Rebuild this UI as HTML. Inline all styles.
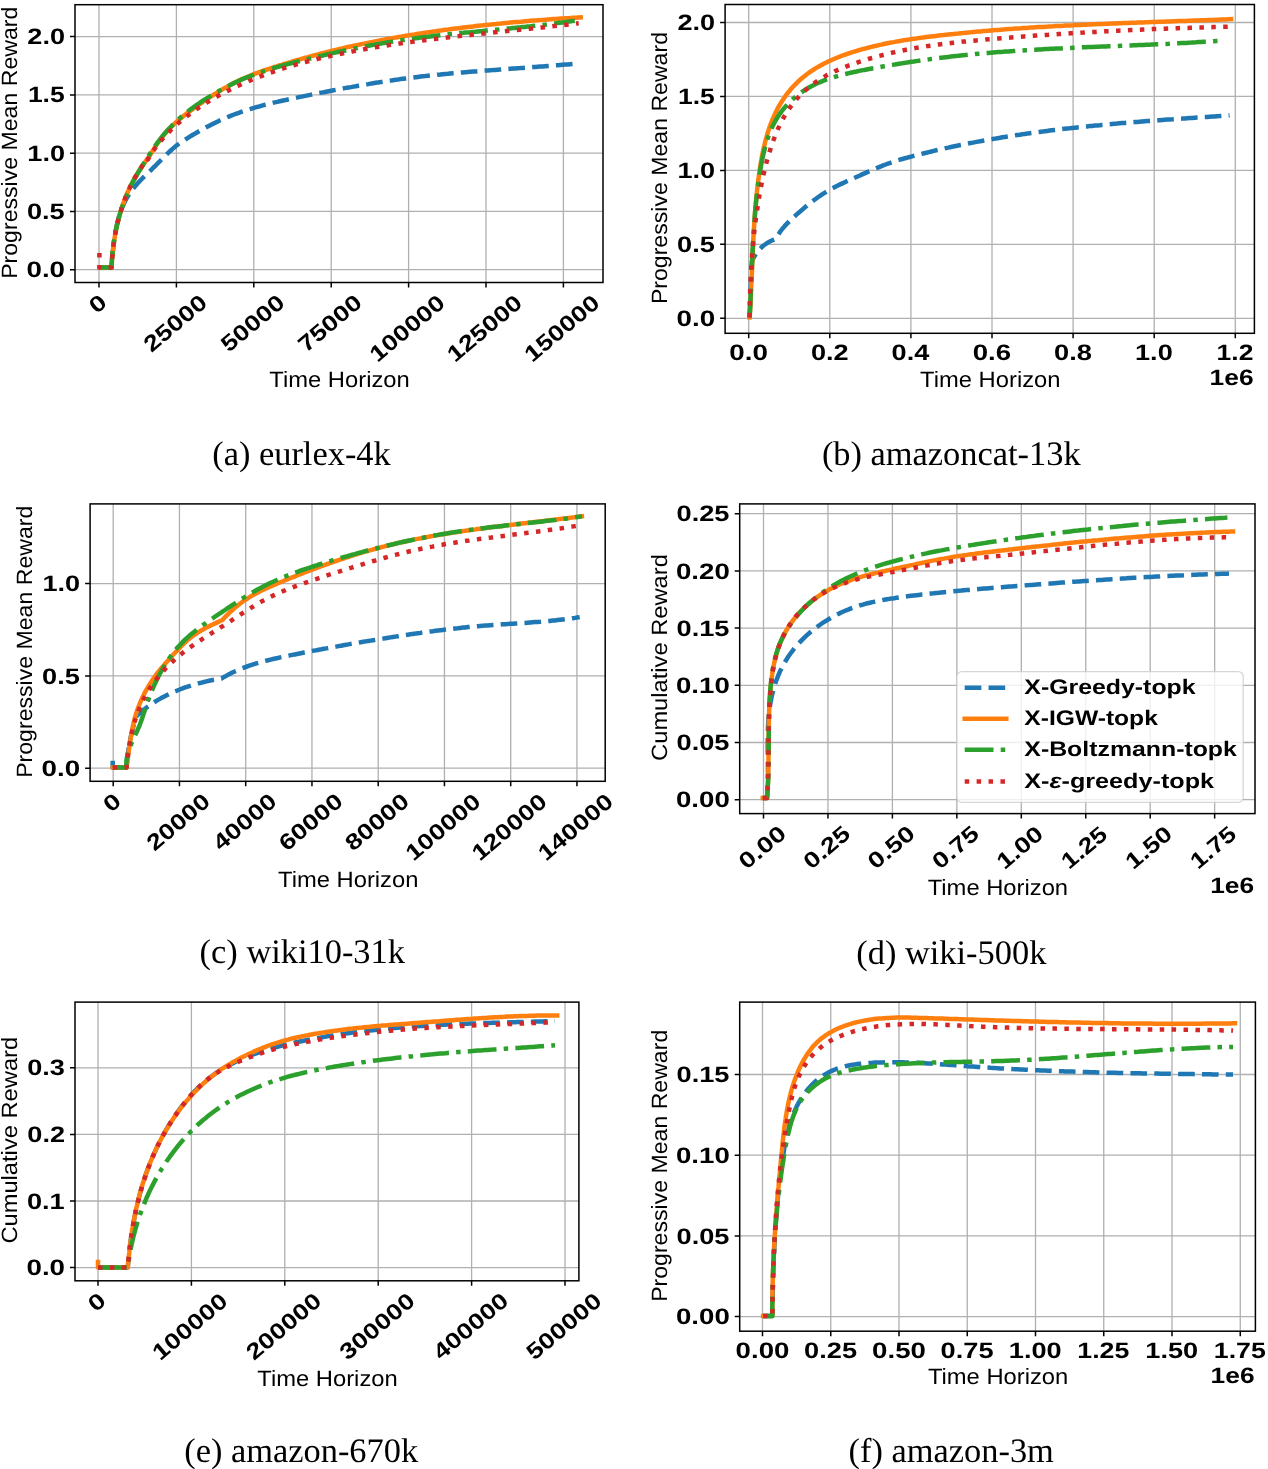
<!DOCTYPE html>
<html><head><meta charset="utf-8"><title>Figure</title>
<style>
html,body{margin:0;padding:0;background:#fff;}
body{width:1268px;height:1469px;overflow:hidden;}
svg{display:block;will-change:transform;text-rendering:geometricPrecision;}
text{font-family:"Liberation Sans",sans-serif;font-size:22.7px;fill:#000;}
text.cap{font-family:"Liberation Serif",serif;font-size:34.4px;}
</style></head>
<body>
<svg width="1268" height="1469" viewBox="0 0 1268 1469">
<rect width="1268" height="1469" fill="#fff"/>
<clipPath id="clipa"><rect x="75" y="4.7" width="528" height="277.8"/></clipPath>
<path d="M99.00,4.7V282.5M176.40,4.7V282.5M253.80,4.7V282.5M331.20,4.7V282.5M408.60,4.7V282.5M486.00,4.7V282.5M563.40,4.7V282.5M75,269.70H603M75,211.43H603M75,153.16H603M75,94.89H603M75,36.62H603" stroke="#b0b0b0" stroke-width="1.3" fill="none"/>
<g clip-path="url(#clipa)">
<path d="M99.4,267.6 L111.5,267.6 L111.7,265.1 L111.9,262.6 L112.1,260.1 L112.3,257.6 L112.6,255.1 L112.8,252.6 L113.1,250.1 L113.3,247.6 L113.6,245.1 L113.9,242.6 L114.2,240.0 L114.6,237.5 L115.0,235.0 L115.4,232.6 L115.8,230.1 L116.3,227.6 L116.8,225.2 L117.4,222.7 L118.0,220.3 L118.6,217.9 L119.3,215.6 L120.1,213.2 L120.9,210.9 L121.7,208.6 L122.7,206.3 L123.7,204.1 L124.7,201.9 L125.8,199.7 L127.0,197.6 L128.3,195.5 L129.6,193.4 L131.0,191.4 L132.5,189.4 L134.1,187.5 L135.7,185.6 L137.3,183.7 L139.0,181.8 L140.8,180.0 L142.6,178.2 L144.4,176.4 L146.2,174.6 L148.0,172.8 L149.9,171.1 L151.7,169.3 L153.5,167.5 L155.3,165.8 L157.1,164.0 L158.9,162.2 L160.6,160.5 L162.4,158.7 L164.1,157.0 L165.8,155.2 L167.6,153.5 L169.3,151.8 L171.1,150.2 L172.9,148.6 L174.8,147.0 L176.7,145.4 L178.7,144.0 L180.7,142.5 L182.7,141.1 L184.8,139.8 L187.0,138.5 L189.1,137.1 L191.3,135.8 L193.4,134.5 L195.6,133.3 L197.8,132.0 L200.0,130.7 L202.2,129.5 L204.4,128.3 L206.6,127.1 L208.9,125.9 L211.1,124.7 L213.4,123.6 L215.7,122.5 L217.9,121.4 L220.2,120.3 L222.5,119.3 L224.8,118.3 L227.1,117.3 L229.5,116.3 L231.8,115.4 L234.1,114.5 L236.5,113.6 L238.8,112.8 L241.2,111.9 L243.5,111.1 L245.9,110.4 L248.3,109.6 L250.7,108.9 L253.1,108.1 L255.5,107.4 L257.9,106.8 L260.3,106.1 L262.7,105.4 L265.1,104.8 L267.5,104.2 L269.9,103.6 L272.4,103.0 L274.8,102.4 L277.2,101.9 L279.7,101.3 L282.1,100.7 L284.5,100.2 L287.0,99.7 L289.4,99.1 L291.9,98.6 L294.3,98.1 L296.8,97.6 L299.2,97.1 L301.7,96.6 L304.1,96.1 L306.6,95.6 L309.1,95.1 L311.5,94.6 L314.0,94.1 L316.4,93.6 L318.9,93.1 L321.4,92.6 L323.8,92.2 L326.3,91.7 L328.7,91.2 L331.2,90.7 L333.7,90.2 L336.1,89.8 L338.6,89.3 L341.1,88.9 L343.5,88.4 L346.0,87.9 L348.5,87.5 L351.0,87.1 L353.4,86.6 L355.9,86.2 L358.4,85.7 L360.8,85.3 L363.3,84.9 L365.8,84.5 L368.3,84.1 L370.7,83.6 L373.2,83.2 L375.7,82.8 L378.2,82.4 L380.7,82.1 L383.1,81.7 L385.6,81.3 L388.1,80.9 L390.6,80.6 L393.1,80.2 L395.5,79.8 L398.0,79.5 L400.5,79.1 L403.0,78.8 L405.5,78.5 L408.0,78.2 L410.4,77.8 L412.9,77.5 L415.4,77.2 L417.9,76.9 L420.4,76.6 L422.9,76.3 L425.4,76.1 L427.9,75.8 L430.4,75.5 L432.8,75.3 L435.3,75.0 L437.8,74.7 L440.3,74.5 L442.8,74.2 L445.3,74.0 L447.8,73.8 L450.3,73.5 L452.8,73.3 L455.3,73.1 L457.8,72.9 L460.3,72.6 L462.7,72.4 L465.2,72.2 L467.7,72.0 L470.2,71.8 L472.7,71.6 L475.2,71.4 L477.7,71.2 L480.2,71.0 L482.7,70.8 L485.2,70.6 L487.7,70.4 L490.2,70.2 L492.7,70.1 L495.2,69.9 L497.7,69.7 L500.2,69.5 L502.7,69.3 L505.2,69.1 L507.7,69.0 L510.2,68.8 L512.7,68.6 L515.2,68.4 L517.7,68.2 L520.2,68.1 L522.7,67.9 L525.2,67.7 L527.7,67.5 L530.2,67.3 L532.7,67.1 L535.2,67.0 L537.7,66.8 L540.2,66.6 L542.7,66.4 L545.2,66.2 L547.7,66.0 L550.2,65.8 L552.7,65.6 L555.2,65.4 L557.7,65.2 L560.2,65.0 L562.7,64.8 L565.2,64.6 L567.7,64.4 L570.2,64.2 L572.7,64.0 L575.2,63.7 L577.7,63.5" fill="none" stroke="#1f77b4" stroke-width="4.5" stroke-linecap="butt" stroke-linejoin="round" stroke-dasharray="16.65 7.20"/>
<path d="M99.4,267.6 L111.5,267.6 L111.6,265.1 L111.8,262.5 L112.0,260.0 L112.2,257.5 L112.4,254.9 L112.6,252.4 L112.9,249.9 L113.2,247.3 L113.5,244.8 L113.9,242.3 L114.3,239.8 L114.7,237.3 L115.1,234.8 L115.6,232.3 L116.1,229.8 L116.6,227.3 L117.1,224.8 L117.7,222.3 L118.3,219.9 L119.0,217.4 L119.6,215.0 L120.3,212.6 L121.1,210.1 L121.8,207.7 L122.6,205.3 L123.5,202.9 L124.3,200.6 L125.2,198.2 L126.2,195.9 L127.1,193.5 L128.1,191.2 L129.2,188.9 L130.2,186.6 L131.4,184.4 L132.5,182.1 L133.7,179.9 L134.9,177.7 L136.2,175.5 L137.5,173.3 L138.8,171.1 L140.2,169.0 L141.6,166.9 L143.1,164.8 L144.6,162.7 L146.1,160.6 L147.7,158.6 L147.7,159.3 L148.9,157.1 L150.2,154.9 L151.5,152.8 L152.8,150.6 L154.2,148.4 L155.5,146.3 L157.0,144.2 L158.4,142.1 L159.9,140.1 L161.4,138.1 L163.0,136.1 L164.5,134.2 L166.2,132.3 L167.8,130.4 L169.5,128.6 L171.2,126.9 L173.0,125.2 L174.7,123.5 L176.5,121.9 L178.4,120.2 L180.3,118.7 L182.1,117.1 L184.1,115.6 L186.0,114.1 L187.9,112.6 L189.9,111.1 L191.9,109.6 L193.9,108.1 L196.0,106.7 L198.0,105.2 L200.1,103.8 L202.2,102.3 L204.3,100.9 L206.4,99.5 L208.5,98.1 L210.6,96.7 L212.8,95.3 L214.9,93.9 L217.1,92.6 L219.3,91.2 L221.5,89.9 L223.7,88.6 L225.9,87.4 L228.2,86.1 L230.4,84.9 L232.6,83.7 L234.9,82.6 L237.2,81.4 L239.5,80.3 L241.7,79.3 L244.0,78.3 L246.3,77.3 L248.7,76.3 L251.0,75.4 L253.3,74.4 L255.6,73.5 L258.0,72.7 L260.3,71.8 L262.7,71.0 L265.0,70.2 L267.4,69.4 L269.7,68.6 L272.1,67.8 L274.5,67.0 L276.9,66.3 L279.2,65.5 L281.6,64.8 L284.0,64.0 L286.4,63.3 L288.8,62.6 L291.2,61.9 L293.5,61.1 L295.9,60.4 L298.3,59.8 L300.7,59.1 L303.1,58.4 L305.5,57.7 L308.0,57.1 L310.4,56.4 L312.8,55.7 L315.2,55.1 L317.6,54.5 L320.0,53.8 L322.5,53.2 L324.9,52.6 L327.3,52.0 L329.7,51.4 L332.2,50.8 L334.6,50.2 L337.0,49.6 L339.5,49.0 L341.9,48.5 L344.3,47.9 L346.8,47.3 L349.2,46.8 L351.7,46.3 L354.1,45.7 L356.6,45.2 L359.0,44.7 L361.5,44.1 L363.9,43.6 L366.4,43.1 L368.9,42.6 L371.3,42.1 L373.8,41.6 L376.3,41.1 L378.7,40.7 L381.2,40.2 L383.7,39.7 L386.1,39.3 L388.6,38.8 L391.1,38.4 L393.5,37.9 L396.0,37.5 L398.5,37.0 L401.0,36.6 L403.5,36.2 L405.9,35.8 L408.4,35.4 L410.9,35.0 L413.4,34.6 L415.9,34.2 L418.4,33.8 L420.9,33.4 L423.3,33.0 L425.8,32.6 L428.3,32.3 L430.8,31.9 L433.3,31.5 L435.8,31.2 L438.3,30.8 L440.8,30.5 L443.3,30.1 L445.8,29.8 L448.3,29.5 L450.8,29.1 L453.3,28.8 L455.8,28.5 L458.3,28.2 L460.8,27.9 L463.3,27.6 L465.8,27.3 L468.3,27.0 L470.8,26.7 L473.3,26.4 L475.8,26.1 L478.3,25.8 L480.8,25.5 L483.3,25.3 L485.8,25.0 L488.3,24.7 L490.8,24.5 L493.3,24.2 L495.8,24.0 L498.3,23.7 L500.8,23.5 L503.3,23.2 L505.8,23.0 L508.3,22.8 L510.8,22.5 L513.3,22.3 L515.8,22.1 L518.3,21.9 L520.8,21.7 L523.3,21.4 L525.8,21.2 L528.3,21.0 L530.8,20.8 L533.3,20.6 L535.8,20.4 L538.3,20.2 L540.8,20.1 L543.3,19.9 L545.8,19.7 L548.3,19.5 L550.8,19.3 L553.3,19.1 L555.8,19.0 L558.3,18.8 L560.8,18.6 L563.3,18.5 L565.8,18.3 L568.3,18.2 L570.8,18.0 L573.2,17.8 L575.7,17.7 L578.2,17.5 L580.7,17.4" fill="none" stroke="#ff7f0e" stroke-width="4.5" stroke-linecap="square" stroke-linejoin="round"/>
<path d="M99.4,267.6 L111.5,267.6 L111.6,265.0 L111.8,262.5 L111.9,259.9 L112.1,257.4 L112.3,254.9 L112.5,252.4 L112.8,249.9 L113.1,247.4 L113.4,244.9 L113.8,242.4 L114.1,239.9 L114.5,237.5 L115.0,235.0 L115.4,232.6 L115.9,230.1 L116.4,227.7 L117.0,225.3 L117.5,222.9 L118.1,220.5 L118.8,218.1 L119.4,215.7 L120.1,213.3 L120.9,210.9 L121.6,208.6 L122.4,206.2 L123.2,203.9 L124.1,201.6 L125.0,199.3 L125.9,196.9 L126.9,194.6 L127.9,192.4 L128.9,190.1 L130.0,187.8 L131.1,185.5 L132.2,183.3 L133.4,181.0 L134.6,178.8 L135.9,176.6 L137.1,174.4 L138.4,172.2 L139.8,170.0 L141.1,167.8 L142.4,165.6 L143.8,163.5 L145.1,161.3 L146.5,159.2 L147.8,157.1 L149.2,155.0 L150.5,152.9 L151.9,150.9 L153.2,148.8 L154.6,146.8 L156.0,144.7 L157.4,142.7 L158.9,140.8 L160.4,138.8 L161.9,136.9 L163.5,134.9 L165.1,133.0 L166.8,131.1 L168.4,129.3 L170.2,127.5 L171.9,125.7 L173.7,123.9 L175.5,122.1 L177.3,120.4 L179.2,118.7 L181.1,117.0 L182.9,115.4 L184.9,113.8 L186.8,112.3 L188.8,110.7 L190.7,109.2 L192.7,107.8 L194.7,106.3 L196.7,104.9 L198.8,103.5 L200.8,102.1 L202.9,100.7 L205.0,99.4 L207.1,98.1 L209.2,96.8 L211.4,95.5 L213.5,94.2 L215.7,92.9 L217.8,91.7 L220.0,90.4 L222.2,89.2 L224.4,88.0 L226.7,86.8 L228.9,85.7 L231.1,84.5 L233.4,83.4 L235.7,82.3 L238.0,81.3 L240.2,80.2 L242.6,79.2 L244.9,78.2 L247.2,77.3 L249.5,76.4 L251.8,75.5 L254.2,74.6 L256.5,73.7 L258.9,72.9 L261.3,72.1 L263.6,71.3 L266.0,70.5 L268.4,69.7 L270.8,69.0 L273.2,68.2 L275.6,67.5 L278.0,66.8 L280.4,66.1 L282.8,65.5 L285.3,64.8 L287.7,64.1 L290.1,63.5 L292.5,62.9 L295.0,62.2 L297.4,61.6 L299.8,61.0 L302.3,60.4 L304.7,59.8 L307.2,59.2 L309.6,58.6 L312.0,58.0 L314.5,57.4 L316.9,56.8 L319.4,56.2 L321.8,55.7 L324.3,55.1 L326.7,54.5 L329.2,54.0 L331.6,53.4 L334.1,52.9 L336.5,52.3 L339.0,51.8 L341.4,51.3 L343.9,50.7 L346.3,50.2 L348.8,49.7 L351.2,49.2 L353.7,48.7 L356.2,48.2 L358.6,47.7 L361.1,47.2 L363.5,46.7 L366.0,46.3 L368.5,45.8 L370.9,45.3 L373.4,44.9 L375.9,44.4 L378.3,44.0 L380.8,43.6 L383.3,43.1 L385.7,42.7 L388.2,42.3 L390.7,41.9 L393.2,41.5 L395.6,41.1 L398.1,40.7 L400.6,40.4 L403.1,40.0 L405.5,39.6 L408.0,39.3 L410.5,38.9 L413.0,38.6 L415.4,38.2 L417.9,37.9 L420.4,37.6 L422.9,37.3 L425.4,37.0 L427.8,36.7 L430.3,36.4 L432.8,36.1 L435.3,35.8 L437.8,35.5 L440.2,35.2 L442.7,34.9 L445.2,34.7 L447.7,34.4 L450.2,34.1 L452.7,33.9 L455.2,33.6 L457.6,33.4 L460.1,33.1 L462.6,32.9 L465.1,32.6 L467.6,32.4 L470.1,32.2 L472.6,31.9 L475.1,31.7 L477.6,31.4 L480.0,31.2 L482.5,31.0 L485.0,30.7 L487.5,30.5 L490.0,30.3 L492.5,30.0 L495.0,29.8 L497.5,29.6 L500.0,29.3 L502.5,29.1 L505.0,28.9 L507.5,28.6 L510.0,28.4 L512.4,28.1 L514.9,27.9 L517.4,27.6 L519.9,27.4 L522.4,27.1 L524.9,26.9 L527.4,26.6 L529.9,26.4 L532.4,26.1 L534.9,25.8 L537.4,25.5 L539.9,25.3 L542.4,25.0 L544.9,24.7 L547.4,24.4 L549.9,24.1 L552.4,23.8 L554.8,23.5 L557.3,23.1 L559.8,22.8 L562.3,22.5 L564.8,22.1 L567.3,21.8 L569.8,21.4 L572.3,21.1 L574.8,20.7" fill="none" stroke="#2ca02c" stroke-width="4.5" stroke-linecap="butt" stroke-linejoin="round" stroke-dasharray="28.80 7.20 4.50 7.20"/>
<path d="M99.4,253.0 L99.4,267.6 L111.5,267.6 L111.6,265.1 L111.8,262.5 L112.0,260.0 L112.2,257.5 L112.4,254.9 L112.6,252.4 L112.9,249.9 L113.2,247.3 L113.5,244.8 L113.9,242.3 L114.3,239.8 L114.7,237.3 L115.1,234.8 L115.6,232.3 L116.1,229.8 L116.6,227.3 L117.1,224.8 L117.7,222.3 L118.3,219.9 L119.0,217.4 L119.6,215.0 L120.3,212.6 L121.1,210.1 L121.8,207.7 L122.6,205.3 L123.5,202.9 L124.3,200.6 L125.2,198.2 L126.2,195.9 L127.1,193.5 L128.1,191.2 L129.2,188.9 L130.2,186.6 L131.4,184.4 L132.5,182.1 L133.7,179.9 L134.9,177.7 L136.2,175.5 L137.5,173.3 L138.8,171.1 L140.2,169.0 L141.6,166.9 L143.1,164.8 L144.6,162.7 L146.1,160.6 L147.7,158.6 L147.7,159.5 L149.0,157.3 L150.3,155.2 L151.7,153.1 L153.0,151.1 L154.5,149.0 L156.0,147.0 L157.5,145.0 L159.0,143.1 L160.6,141.2 L162.2,139.3 L163.9,137.4 L165.5,135.6 L167.2,133.7 L169.0,132.0 L170.7,130.2 L172.5,128.5 L174.4,126.8 L176.2,125.1 L178.1,123.4 L180.0,121.8 L181.9,120.2 L183.9,118.6 L185.9,117.0 L187.9,115.5 L189.9,114.0 L191.9,112.5 L194.0,111.0 L196.0,109.6 L198.1,108.1 L200.2,106.7 L202.3,105.4 L204.5,104.0 L206.6,102.7 L208.8,101.3 L211.0,100.0 L213.1,98.8 L215.3,97.5 L217.5,96.3 L219.7,95.1 L222.0,93.9 L224.2,92.7 L226.4,91.6 L228.7,90.4 L230.9,89.3 L233.2,88.2 L235.4,87.1 L237.7,86.1 L239.9,85.0 L242.2,84.0 L244.5,83.0 L246.8,82.0 L249.1,81.0 L251.4,80.0 L253.7,79.1 L256.0,78.2 L258.3,77.2 L260.6,76.3 L262.9,75.5 L265.2,74.6 L267.6,73.7 L269.9,72.9 L272.3,72.1 L274.6,71.3 L277.0,70.5 L279.3,69.7 L281.7,68.9 L284.0,68.2 L286.4,67.4 L288.8,66.7 L291.2,66.0 L293.6,65.3 L295.9,64.6 L298.3,63.9 L300.7,63.3 L303.1,62.6 L305.5,62.0 L308.0,61.3 L310.4,60.7 L312.8,60.1 L315.2,59.5 L317.6,58.9 L320.1,58.3 L322.5,57.7 L324.9,57.2 L327.4,56.6 L329.8,56.1 L332.2,55.5 L334.7,55.0 L337.1,54.5 L339.6,54.0 L342.1,53.5 L344.5,53.0 L347.0,52.5 L349.4,52.0 L351.9,51.5 L354.4,51.1 L356.9,50.6 L359.3,50.1 L361.8,49.7 L364.3,49.2 L366.8,48.8 L369.3,48.4 L371.7,47.9 L374.2,47.5 L376.7,47.1 L379.2,46.7 L381.7,46.3 L384.2,45.9 L386.7,45.5 L389.2,45.1 L391.7,44.8 L394.2,44.4 L396.7,44.0 L399.2,43.6 L401.7,43.3 L404.2,42.9 L406.7,42.6 L409.2,42.2 L411.8,41.9 L414.3,41.5 L416.8,41.2 L419.3,40.9 L421.8,40.6 L424.3,40.2 L426.8,39.9 L429.4,39.6 L431.9,39.3 L434.4,39.0 L436.9,38.7 L439.4,38.4 L441.9,38.1 L444.5,37.8 L447.0,37.5 L449.5,37.2 L452.0,36.9 L454.5,36.6 L457.1,36.3 L459.6,36.1 L462.1,35.8 L464.6,35.5 L467.1,35.2 L469.6,35.0 L472.2,34.7 L474.7,34.4 L477.2,34.1 L479.7,33.9 L482.2,33.6 L484.7,33.4 L487.2,33.1 L489.7,32.8 L492.2,32.6 L494.7,32.3 L497.3,32.1 L499.8,31.8 L502.3,31.5 L504.8,31.3 L507.3,31.0 L509.8,30.8 L512.2,30.5 L514.7,30.3 L517.2,30.0 L519.7,29.8 L522.2,29.5 L524.7,29.2 L527.2,29.0 L529.7,28.7 L532.1,28.5 L534.6,28.2 L537.1,28.0 L539.6,27.7 L542.0,27.4 L544.5,27.2 L547.0,26.9 L549.4,26.6 L551.9,26.4 L554.3,26.1 L556.8,25.8 L559.2,25.6 L561.7,25.3 L564.1,25.0 L566.6,24.7 L569.0,24.4 L571.4,24.2 L573.9,23.9 L576.3,23.6 L578.7,23.3" fill="none" stroke="#d62728" stroke-width="4.5" stroke-linecap="butt" stroke-linejoin="round" stroke-dasharray="4.50 7.42"/>
</g>
<rect x="75" y="4.7" width="528" height="277.8" fill="none" stroke="#000" stroke-width="1.5"/>
<path d="M99.00,282.5v5M176.40,282.5v5M253.80,282.5v5M331.20,282.5v5M408.60,282.5v5M486.00,282.5v5M563.40,282.5v5M75,269.70h-5M75,211.43h-5M75,153.16h-5M75,94.89h-5M75,36.62h-5" stroke="#000" stroke-width="1.5" fill="none"/>
<text x="26.43" y="277.30" font-weight="bold" style="font-size:22.30px" textLength="38.64" lengthAdjust="spacingAndGlyphs">0.0</text>
<text x="26.95" y="219.03" font-weight="bold" style="font-size:22.30px" textLength="37.79" lengthAdjust="spacingAndGlyphs">0.5</text>
<text x="27.36" y="160.76" font-weight="bold" style="font-size:22.30px" textLength="37.68" lengthAdjust="spacingAndGlyphs">1.0</text>
<text x="27.90" y="102.49" font-weight="bold" style="font-size:22.30px" textLength="36.83" lengthAdjust="spacingAndGlyphs">1.5</text>
<text x="27.36" y="44.22" font-weight="bold" style="font-size:22.30px" textLength="37.69" lengthAdjust="spacingAndGlyphs">2.0</text>
<text transform="translate(97.40,303.36) rotate(-40)" x="-7.62" y="8.08" font-weight="bold" style="font-size:22.30px" textLength="15.27" lengthAdjust="spacingAndGlyphs">0</text>
<text transform="translate(174.80,322.82) rotate(-40)" x="-37.32" y="8.08" font-weight="bold" style="font-size:22.30px" textLength="74.81" lengthAdjust="spacingAndGlyphs">25000</text>
<text transform="translate(252.20,322.82) rotate(-40)" x="-37.39" y="8.08" font-weight="bold" style="font-size:22.30px" textLength="74.94" lengthAdjust="spacingAndGlyphs">50000</text>
<text transform="translate(329.60,322.82) rotate(-40)" x="-37.75" y="8.08" font-weight="bold" style="font-size:22.30px" textLength="75.37" lengthAdjust="spacingAndGlyphs">75000</text>
<text transform="translate(407.00,327.68) rotate(-40)" x="-45.25" y="8.08" font-weight="bold" style="font-size:22.30px" textLength="89.96" lengthAdjust="spacingAndGlyphs">100000</text>
<text transform="translate(484.40,327.68) rotate(-40)" x="-45.25" y="8.08" font-weight="bold" style="font-size:22.30px" textLength="89.96" lengthAdjust="spacingAndGlyphs">125000</text>
<text transform="translate(561.80,327.68) rotate(-40)" x="-45.25" y="8.08" font-weight="bold" style="font-size:22.30px" textLength="89.96" lengthAdjust="spacingAndGlyphs">150000</text>
<text x="269.35" y="387.10" font-weight="normal" style="font-size:22.10px" textLength="140.39" lengthAdjust="spacingAndGlyphs">Time Horizon</text>

<text transform="translate(16.75,142.60) rotate(-90)" x="-136.22" y="0" style="font-size:22.1px" textLength="272.11" lengthAdjust="spacingAndGlyphs">Progressive Mean Reward</text>
<text x="212.20" y="464.50" class="cap">(a) eurlex-4k</text>
<clipPath id="clipb"><rect x="725.1" y="4.5" width="529.3000000000001" height="328.8"/></clipPath>
<path d="M748.70,4.5V333.3M829.80,4.5V333.3M910.90,4.5V333.3M992.00,4.5V333.3M1073.10,4.5V333.3M1154.20,4.5V333.3M1235.30,4.5V333.3M725.1,318.30H1254.4M725.1,244.35H1254.4M725.1,170.40H1254.4M725.1,96.45H1254.4M725.1,22.50H1254.4" stroke="#b0b0b0" stroke-width="1.3" fill="none"/>
<g clip-path="url(#clipb)">
<path d="M749.6,317.4 L750.5,290.0 L751.9,261.4 L753.0,258.9 L754.3,256.6 L755.7,254.3 L757.1,252.2 L758.7,250.2 L760.5,248.4 L762.3,246.6 L764.3,245.0 L766.3,243.6 L768.5,242.2 L770.8,241.0 L773.3,239.9 L775.8,238.9 L777.0,236.7 L778.3,234.5 L779.7,232.4 L781.1,230.5 L782.6,228.5 L784.2,226.7 L785.8,224.8 L787.5,223.1 L789.2,221.3 L791.0,219.6 L792.8,217.9 L794.7,216.2 L796.5,214.6 L798.4,212.9 L800.4,211.3 L802.3,209.6 L804.2,207.9 L806.2,206.3 L808.2,204.7 L810.2,203.1 L812.2,201.5 L814.2,200.0 L816.3,198.5 L818.3,197.0 L820.4,195.6 L822.5,194.2 L824.6,192.9 L826.7,191.6 L828.8,190.3 L831.0,189.1 L833.1,188.0 L835.3,186.8 L837.5,185.7 L839.6,184.6 L841.8,183.6 L844.1,182.6 L846.3,181.5 L848.5,180.5 L850.8,179.5 L853.0,178.5 L855.3,177.5 L857.6,176.5 L859.9,175.5 L862.2,174.4 L864.5,173.4 L866.8,172.4 L869.1,171.3 L871.5,170.3 L873.8,169.3 L876.1,168.3 L878.5,167.3 L880.9,166.3 L883.2,165.4 L885.6,164.5 L888.0,163.6 L890.4,162.8 L892.7,162.0 L895.1,161.2 L897.5,160.4 L899.9,159.7 L902.3,159.0 L904.7,158.3 L907.2,157.7 L909.6,157.0 L912.0,156.4 L914.4,155.7 L916.8,155.1 L919.2,154.5 L921.7,153.9 L924.1,153.3 L926.5,152.7 L928.9,152.1 L931.4,151.5 L933.8,150.9 L936.2,150.3 L938.7,149.8 L941.1,149.2 L943.5,148.7 L946.0,148.1 L948.4,147.6 L950.9,147.0 L953.3,146.5 L955.8,146.0 L958.2,145.5 L960.6,145.0 L963.1,144.5 L965.5,144.0 L968.0,143.5 L970.5,143.0 L972.9,142.6 L975.4,142.1 L977.8,141.6 L980.3,141.2 L982.8,140.7 L985.2,140.3 L987.7,139.9 L990.1,139.4 L992.6,139.0 L995.1,138.6 L997.5,138.2 L1000.0,137.8 L1002.5,137.3 L1005.0,136.9 L1007.4,136.6 L1009.9,136.2 L1012.4,135.8 L1014.9,135.4 L1017.3,135.0 L1019.8,134.7 L1022.3,134.3 L1024.8,133.9 L1027.3,133.6 L1029.7,133.2 L1032.2,132.9 L1034.7,132.6 L1037.2,132.2 L1039.7,131.9 L1042.2,131.6 L1044.7,131.2 L1047.2,130.9 L1049.6,130.6 L1052.1,130.3 L1054.6,130.0 L1057.1,129.7 L1059.6,129.4 L1062.1,129.1 L1064.6,128.8 L1067.1,128.5 L1069.6,128.3 L1072.1,128.0 L1074.6,127.7 L1077.1,127.4 L1079.6,127.2 L1082.1,126.9 L1084.6,126.6 L1087.1,126.4 L1089.6,126.1 L1092.1,125.9 L1094.6,125.6 L1097.1,125.4 L1099.6,125.2 L1102.1,124.9 L1104.6,124.7 L1107.1,124.5 L1109.6,124.2 L1112.1,124.0 L1114.6,123.8 L1117.1,123.6 L1119.6,123.3 L1122.1,123.1 L1124.6,122.9 L1127.1,122.7 L1129.6,122.5 L1132.1,122.3 L1134.6,122.1 L1137.1,121.9 L1139.6,121.7 L1142.1,121.5 L1144.6,121.3 L1147.1,121.1 L1149.6,120.9 L1152.1,120.7 L1154.6,120.5 L1157.1,120.3 L1159.6,120.2 L1162.1,120.0 L1164.7,119.8 L1167.2,119.6 L1169.7,119.4 L1172.2,119.3 L1174.7,119.1 L1177.2,118.9 L1179.7,118.7 L1182.2,118.6 L1184.7,118.4 L1187.2,118.2 L1189.7,118.0 L1192.2,117.9 L1194.7,117.7 L1197.2,117.5 L1199.7,117.4 L1202.2,117.2 L1204.7,117.0 L1207.2,116.9 L1209.7,116.7 L1212.1,116.5 L1214.6,116.4 L1217.1,116.2 L1219.6,116.1 L1222.1,115.9 L1224.6,115.7 L1227.1,115.6 L1229.6,115.4" fill="none" stroke="#1f77b4" stroke-width="4.5" stroke-linecap="butt" stroke-linejoin="round" stroke-dasharray="16.65 7.20"/>
<path d="M749.6,317.4 L749.8,314.9 L749.9,312.3 L750.1,309.8 L750.2,307.3 L750.4,304.8 L750.5,302.3 L750.6,299.8 L750.8,297.3 L750.9,294.7 L751.0,292.2 L751.1,289.7 L751.2,287.2 L751.3,284.7 L751.4,282.2 L751.6,279.7 L751.7,277.2 L751.8,274.8 L751.9,272.3 L752.0,269.8 L752.1,267.3 L752.2,264.8 L752.3,262.3 L752.4,259.8 L752.5,257.3 L752.6,254.8 L752.7,252.4 L752.8,249.9 L753.0,247.4 L753.1,244.9 L753.2,242.4 L753.3,239.9 L753.4,237.4 L753.6,235.0 L753.7,232.5 L753.9,230.0 L754.0,227.5 L754.2,225.0 L754.3,222.5 L754.5,220.0 L754.7,217.5 L754.9,215.0 L755.0,212.5 L755.2,210.0 L755.4,207.5 L755.7,205.0 L755.9,202.5 L756.1,200.0 L756.4,197.5 L756.6,195.0 L756.9,192.5 L757.1,190.0 L757.4,187.5 L757.7,185.0 L758.0,182.5 L758.3,179.9 L758.7,177.4 L759.0,174.9 L759.4,172.3 L759.7,169.8 L760.1,167.3 L760.5,164.8 L760.9,162.2 L761.4,159.7 L761.8,157.2 L762.3,154.7 L762.8,152.2 L763.3,149.7 L763.9,147.2 L764.5,144.7 L765.1,142.2 L765.7,139.8 L766.4,137.3 L767.1,134.9 L767.8,132.5 L768.6,130.1 L769.4,127.7 L770.2,125.3 L771.1,123.0 L772.0,120.7 L773.0,118.4 L774.0,116.1 L775.0,113.8 L776.1,111.6 L777.2,109.4 L778.4,107.2 L779.6,105.1 L780.9,103.0 L782.2,100.9 L783.5,98.9 L784.9,96.8 L786.3,94.9 L787.8,92.9 L789.4,91.0 L790.9,89.1 L792.5,87.3 L794.2,85.5 L795.9,83.8 L797.6,82.1 L799.4,80.4 L801.2,78.8 L803.1,77.2 L805.0,75.7 L806.9,74.2 L808.9,72.7 L810.9,71.3 L813.0,70.0 L815.1,68.7 L817.2,67.4 L819.3,66.2 L821.5,65.0 L823.7,63.8 L826.0,62.7 L828.2,61.6 L830.5,60.5 L832.8,59.5 L835.1,58.5 L837.5,57.5 L839.8,56.6 L842.2,55.7 L844.6,54.8 L847.0,54.0 L849.4,53.2 L851.8,52.4 L854.3,51.6 L856.7,50.9 L859.1,50.1 L861.6,49.4 L864.1,48.8 L866.5,48.1 L869.0,47.5 L871.4,46.9 L873.9,46.3 L876.4,45.7 L878.8,45.1 L881.3,44.6 L883.8,44.0 L886.2,43.5 L888.7,43.0 L891.2,42.5 L893.7,42.1 L896.1,41.6 L898.6,41.2 L901.1,40.8 L903.6,40.3 L906.1,39.9 L908.6,39.6 L911.0,39.2 L913.5,38.8 L916.0,38.5 L918.5,38.1 L921.0,37.8 L923.5,37.4 L926.0,37.1 L928.5,36.8 L930.9,36.5 L933.4,36.2 L935.9,35.9 L938.4,35.6 L940.9,35.3 L943.4,35.1 L945.9,34.8 L948.4,34.5 L950.9,34.2 L953.4,34.0 L955.9,33.7 L958.4,33.5 L960.9,33.2 L963.3,33.0 L965.8,32.7 L968.3,32.5 L970.8,32.3 L973.3,32.0 L975.8,31.8 L978.3,31.6 L980.8,31.4 L983.3,31.1 L985.8,30.9 L988.3,30.7 L990.8,30.5 L993.3,30.3 L995.8,30.1 L998.3,29.9 L1000.8,29.7 L1003.3,29.5 L1005.8,29.3 L1008.3,29.1 L1010.8,29.0 L1013.3,28.8 L1015.8,28.6 L1018.3,28.4 L1020.8,28.3 L1023.2,28.1 L1025.7,27.9 L1028.2,27.8 L1030.7,27.6 L1033.2,27.5 L1035.7,27.3 L1038.2,27.1 L1040.7,27.0 L1043.2,26.9 L1045.7,26.7 L1048.2,26.6 L1050.7,26.4 L1053.2,26.3 L1055.7,26.1 L1058.2,26.0 L1060.7,25.9 L1063.2,25.8 L1065.7,25.6 L1068.2,25.5 L1070.7,25.4 L1073.2,25.3 L1075.7,25.1 L1078.2,25.0 L1080.7,24.9 L1083.2,24.8 L1085.7,24.7 L1088.2,24.6 L1090.7,24.4 L1093.2,24.3 L1095.8,24.2 L1098.3,24.1 L1100.8,24.0 L1103.3,23.9 L1105.8,23.8 L1108.3,23.7 L1110.8,23.6 L1113.3,23.5 L1115.8,23.4 L1118.3,23.3 L1120.8,23.2 L1123.3,23.1 L1125.8,23.0 L1128.3,22.9 L1130.8,22.8 L1133.3,22.7 L1135.8,22.7 L1138.3,22.6 L1140.8,22.5 L1143.3,22.4 L1145.8,22.3 L1148.3,22.2 L1150.8,22.1 L1153.3,22.0 L1155.9,21.9 L1158.4,21.8 L1160.9,21.8 L1163.4,21.7 L1165.9,21.6 L1168.4,21.5 L1170.9,21.4 L1173.4,21.3 L1175.9,21.2 L1178.4,21.1 L1180.9,21.1 L1183.4,21.0 L1185.9,20.9 L1188.4,20.8 L1191.0,20.7 L1193.5,20.6 L1196.0,20.5 L1198.5,20.4 L1201.0,20.3 L1203.5,20.3 L1206.0,20.2 L1208.5,20.1 L1211.0,20.0 L1213.5,19.9 L1216.0,19.8 L1218.6,19.7 L1221.1,19.6 L1223.6,19.5 L1226.1,19.4 L1228.6,19.3 L1231.1,19.2" fill="none" stroke="#ff7f0e" stroke-width="4.5" stroke-linecap="square" stroke-linejoin="round"/>
<path d="M749.6,317.4 L749.7,314.9 L749.9,312.3 L750.0,309.8 L750.1,307.3 L750.3,304.8 L750.4,302.2 L750.5,299.7 L750.6,297.2 L750.7,294.7 L750.8,292.2 L750.9,289.7 L751.0,287.2 L751.1,284.7 L751.3,282.2 L751.4,279.7 L751.5,277.2 L751.6,274.7 L751.7,272.2 L751.8,269.7 L751.9,267.2 L752.0,264.7 L752.1,262.2 L752.2,259.7 L752.3,257.2 L752.4,254.8 L752.5,252.3 L752.6,249.8 L752.8,247.3 L752.9,244.8 L753.0,242.3 L753.2,239.8 L753.3,237.4 L753.5,234.9 L753.6,232.4 L753.8,229.9 L753.9,227.4 L754.1,224.9 L754.3,222.5 L754.5,220.0 L754.7,217.5 L754.9,215.0 L755.1,212.5 L755.3,210.0 L755.5,207.5 L755.8,205.0 L756.0,202.5 L756.3,200.0 L756.5,197.5 L756.8,195.1 L757.1,192.6 L757.4,190.0 L757.7,187.5 L758.1,185.0 L758.4,182.5 L758.8,180.0 L759.1,177.5 L759.5,175.0 L759.9,172.5 L760.3,170.0 L760.7,167.4 L761.2,164.9 L761.7,162.4 L762.1,159.9 L762.7,157.4 L763.2,154.9 L763.8,152.5 L764.4,150.0 L765.0,147.6 L765.7,145.1 L766.4,142.7 L767.1,140.3 L767.9,137.9 L768.7,135.6 L769.6,133.3 L770.5,131.0 L771.5,128.7 L772.5,126.4 L773.6,124.2 L774.8,122.0 L776.0,119.9 L777.2,117.8 L778.6,115.7 L780.0,113.6 L781.4,111.6 L782.9,109.7 L784.5,107.8 L786.1,105.9 L787.8,104.1 L789.5,102.3 L791.3,100.6 L793.1,98.9 L795.0,97.3 L796.9,95.7 L798.8,94.2 L800.8,92.7 L802.8,91.3 L804.9,90.0 L807.0,88.7 L809.1,87.5 L811.3,86.3 L813.5,85.2 L815.7,84.1 L817.9,83.0 L820.2,82.1 L822.5,81.1 L824.8,80.2 L827.2,79.4 L829.5,78.5 L831.9,77.8 L834.3,77.0 L836.8,76.3 L839.2,75.6 L841.7,74.9 L844.1,74.3 L846.6,73.7 L849.1,73.1 L851.6,72.5 L854.1,72.0 L856.6,71.5 L859.1,70.9 L861.6,70.4 L864.1,70.0 L866.6,69.5 L869.1,69.0 L871.6,68.5 L874.1,68.1 L876.6,67.6 L879.1,67.2 L881.6,66.7 L884.1,66.3 L886.6,65.9 L889.1,65.4 L891.6,65.0 L894.0,64.6 L896.5,64.2 L899.0,63.8 L901.5,63.4 L903.9,63.0 L906.4,62.6 L908.9,62.2 L911.4,61.8 L913.8,61.5 L916.3,61.1 L918.8,60.8 L921.2,60.4 L923.7,60.0 L926.1,59.7 L928.6,59.4 L931.1,59.0 L933.5,58.7 L936.0,58.4 L938.5,58.1 L940.9,57.8 L943.4,57.5 L945.9,57.2 L948.4,56.9 L950.8,56.6 L953.3,56.3 L955.8,56.0 L958.3,55.8 L960.7,55.5 L963.2,55.2 L965.7,55.0 L968.2,54.7 L970.7,54.5 L973.2,54.3 L975.6,54.0 L978.1,53.8 L980.6,53.6 L983.1,53.4 L985.6,53.1 L988.1,52.9 L990.6,52.7 L993.1,52.5 L995.6,52.3 L998.1,52.1 L1000.6,51.9 L1003.1,51.8 L1005.6,51.6 L1008.1,51.4 L1010.6,51.2 L1013.1,51.1 L1015.6,50.9 L1018.1,50.7 L1020.6,50.6 L1023.1,50.4 L1025.6,50.2 L1028.1,50.1 L1030.6,49.9 L1033.1,49.8 L1035.6,49.7 L1038.1,49.5 L1040.6,49.4 L1043.1,49.2 L1045.6,49.1 L1048.1,49.0 L1050.6,48.8 L1053.1,48.7 L1055.7,48.6 L1058.2,48.5 L1060.7,48.4 L1063.2,48.2 L1065.7,48.1 L1068.2,48.0 L1070.7,47.9 L1073.2,47.8 L1075.7,47.7 L1078.3,47.6 L1080.8,47.4 L1083.3,47.3 L1085.8,47.2 L1088.3,47.1 L1090.8,47.0 L1093.3,46.9 L1095.9,46.8 L1098.4,46.7 L1100.9,46.6 L1103.4,46.5 L1105.9,46.4 L1108.4,46.3 L1110.9,46.2 L1113.4,46.1 L1116.0,46.0 L1118.5,45.9 L1121.0,45.8 L1123.5,45.7 L1126.0,45.6 L1128.5,45.5 L1131.0,45.4 L1133.5,45.3 L1136.1,45.2 L1138.6,45.1 L1141.1,45.0 L1143.6,44.9 L1146.1,44.8 L1148.6,44.7 L1151.1,44.6 L1153.6,44.4 L1156.1,44.3 L1158.6,44.2 L1161.2,44.1 L1163.7,44.0 L1166.2,43.9 L1168.7,43.8 L1171.2,43.6 L1173.7,43.5 L1176.2,43.4 L1178.7,43.3 L1181.2,43.1 L1183.7,43.0 L1186.2,42.9 L1188.7,42.7 L1191.2,42.6 L1193.7,42.4 L1196.2,42.3 L1198.7,42.1 L1201.2,42.0 L1203.7,41.8 L1206.2,41.7 L1208.7,41.5 L1211.2,41.4 L1213.6,41.2 L1216.1,41.0 L1218.6,40.9 L1221.1,40.7 L1223.6,40.5" fill="none" stroke="#2ca02c" stroke-width="4.5" stroke-linecap="butt" stroke-linejoin="round" stroke-dasharray="28.80 7.20 4.50 7.20"/>
<path d="M749.6,317.4 L749.6,314.9 L749.7,312.4 L749.7,310.0 L749.7,307.5 L749.8,305.0 L749.8,302.5 L749.9,300.0 L750.0,297.5 L750.0,295.0 L750.1,292.6 L750.2,290.1 L750.3,287.6 L750.4,285.1 L750.5,282.6 L750.6,280.1 L750.7,277.6 L750.9,275.1 L751.0,272.6 L751.1,270.1 L751.3,267.6 L751.4,265.1 L751.6,262.5 L751.8,260.0 L752.0,257.5 L752.1,255.0 L752.3,252.5 L752.5,250.0 L752.8,247.5 L753.0,245.0 L753.2,242.5 L753.5,240.0 L753.7,237.5 L754.0,235.0 L754.2,232.5 L754.5,230.0 L754.8,227.5 L755.1,225.1 L755.4,222.6 L755.7,220.1 L756.0,217.6 L756.4,215.1 L756.7,212.6 L757.1,210.1 L757.5,207.7 L757.8,205.2 L758.2,202.7 L758.6,200.3 L759.0,197.8 L759.4,195.3 L759.9,192.9 L760.3,190.4 L760.8,188.0 L761.3,185.5 L761.7,183.1 L762.2,180.6 L762.7,178.2 L763.3,175.8 L763.8,173.3 L764.4,170.9 L765.0,168.5 L765.6,166.1 L766.2,163.7 L766.8,161.2 L767.5,158.8 L768.2,156.5 L768.9,154.1 L769.6,151.7 L770.4,149.3 L771.1,146.9 L771.9,144.6 L772.8,142.2 L773.6,139.8 L774.5,137.5 L775.4,135.2 L776.3,132.8 L777.3,130.5 L778.3,128.2 L779.4,126.0 L780.4,123.7 L781.6,121.5 L782.7,119.3 L783.9,117.1 L785.2,114.9 L786.4,112.8 L787.8,110.7 L789.2,108.6 L790.6,106.6 L792.1,104.6 L793.6,102.6 L795.2,100.7 L796.8,98.8 L798.5,97.0 L800.2,95.2 L802.0,93.5 L803.8,91.7 L805.6,90.1 L807.5,88.4 L809.4,86.8 L811.4,85.3 L813.4,83.8 L815.4,82.3 L817.5,80.9 L819.7,79.5 L821.8,78.2 L824.0,76.9 L826.2,75.6 L828.5,74.4 L830.7,73.3 L833.0,72.2 L835.2,71.1 L837.5,70.1 L839.8,69.1 L842.1,68.1 L844.4,67.2 L846.7,66.3 L849.0,65.4 L851.3,64.6 L853.7,63.8 L856.0,63.0 L858.3,62.2 L860.7,61.4 L863.0,60.7 L865.4,60.0 L867.8,59.2 L870.1,58.5 L872.5,57.9 L874.9,57.2 L877.3,56.5 L879.7,55.9 L882.1,55.2 L884.5,54.6 L886.9,54.0 L889.3,53.4 L891.7,52.8 L894.2,52.3 L896.6,51.7 L899.0,51.2 L901.5,50.7 L903.9,50.2 L906.3,49.7 L908.8,49.2 L911.3,48.8 L913.7,48.3 L916.2,47.9 L918.6,47.5 L921.1,47.1 L923.6,46.7 L926.1,46.3 L928.5,45.9 L931.0,45.6 L933.5,45.2 L936.0,44.9 L938.5,44.5 L941.0,44.2 L943.4,43.9 L945.9,43.6 L948.4,43.3 L950.9,43.0 L953.4,42.7 L955.9,42.4 L958.4,42.2 L960.9,41.9 L963.4,41.6 L965.9,41.4 L968.4,41.1 L970.9,40.9 L973.4,40.7 L975.9,40.4 L978.5,40.2 L981.0,40.0 L983.5,39.8 L986.0,39.5 L988.5,39.3 L991.0,39.1 L993.5,38.9 L996.0,38.7 L998.5,38.5 L1001.0,38.3 L1003.5,38.1 L1006.0,37.9 L1008.5,37.7 L1011.0,37.5 L1013.5,37.3 L1016.0,37.1 L1018.5,36.9 L1021.0,36.7 L1023.5,36.5 L1026.0,36.3 L1028.5,36.2 L1031.0,36.0 L1033.5,35.8 L1036.0,35.6 L1038.4,35.4 L1040.9,35.3 L1043.4,35.1 L1045.9,34.9 L1048.4,34.8 L1050.9,34.6 L1053.4,34.4 L1055.9,34.3 L1058.4,34.1 L1060.9,33.9 L1063.4,33.8 L1065.9,33.6 L1068.3,33.5 L1070.8,33.3 L1073.3,33.2 L1075.8,33.0 L1078.3,32.9 L1080.8,32.7 L1083.3,32.6 L1085.8,32.4 L1088.3,32.3 L1090.7,32.1 L1093.2,32.0 L1095.7,31.9 L1098.2,31.7 L1100.7,31.6 L1103.2,31.5 L1105.7,31.3 L1108.2,31.2 L1110.7,31.1 L1113.1,31.0 L1115.6,30.8 L1118.1,30.7 L1120.6,30.6 L1123.1,30.5 L1125.6,30.4 L1128.1,30.2 L1130.6,30.1 L1133.1,30.0 L1135.6,29.9 L1138.1,29.8 L1140.5,29.7 L1143.0,29.6 L1145.5,29.5 L1148.0,29.4 L1150.5,29.3 L1153.0,29.1 L1155.5,29.0 L1158.0,28.9 L1160.5,28.9 L1163.0,28.8 L1165.5,28.7 L1168.0,28.6 L1170.5,28.5 L1173.0,28.4 L1175.5,28.3 L1178.0,28.2 L1180.5,28.1 L1183.0,28.0 L1185.5,27.9 L1188.0,27.9 L1190.5,27.8 L1193.0,27.7 L1195.5,27.6 L1198.0,27.5 L1200.5,27.5 L1203.0,27.4 L1205.5,27.3 L1208.0,27.2 L1210.5,27.2 L1213.0,27.1 L1215.5,27.0 L1218.0,27.0 L1220.6,26.9 L1223.1,26.8 L1225.6,26.8 L1228.1,26.7" fill="none" stroke="#d62728" stroke-width="4.5" stroke-linecap="butt" stroke-linejoin="round" stroke-dasharray="4.50 7.42"/>
</g>
<rect x="725.1" y="4.5" width="529.3000000000001" height="328.8" fill="none" stroke="#000" stroke-width="1.5"/>
<path d="M748.70,333.3v5M829.80,333.3v5M910.90,333.3v5M992.00,333.3v5M1073.10,333.3v5M1154.20,333.3v5M1235.30,333.3v5M725.1,318.30h-5M725.1,244.35h-5M725.1,170.40h-5M725.1,96.45h-5M725.1,22.50h-5" stroke="#000" stroke-width="1.5" fill="none"/>
<text x="676.53" y="325.90" font-weight="bold" style="font-size:22.30px" textLength="38.64" lengthAdjust="spacingAndGlyphs">0.0</text>
<text x="677.05" y="251.95" font-weight="bold" style="font-size:22.30px" textLength="37.79" lengthAdjust="spacingAndGlyphs">0.5</text>
<text x="677.46" y="178.00" font-weight="bold" style="font-size:22.30px" textLength="37.68" lengthAdjust="spacingAndGlyphs">1.0</text>
<text x="678.00" y="104.05" font-weight="bold" style="font-size:22.30px" textLength="36.83" lengthAdjust="spacingAndGlyphs">1.5</text>
<text x="677.46" y="30.10" font-weight="bold" style="font-size:22.30px" textLength="37.69" lengthAdjust="spacingAndGlyphs">2.0</text>
<text x="729.38" y="360.40" font-weight="bold" style="font-size:22.30px" textLength="38.64" lengthAdjust="spacingAndGlyphs">0.0</text>
<text x="810.94" y="360.40" font-weight="bold" style="font-size:22.30px" textLength="37.71" lengthAdjust="spacingAndGlyphs">0.2</text>
<text x="891.61" y="360.40" font-weight="bold" style="font-size:22.30px" textLength="37.69" lengthAdjust="spacingAndGlyphs">0.4</text>
<text x="972.75" y="360.40" font-weight="bold" style="font-size:22.30px" textLength="38.35" lengthAdjust="spacingAndGlyphs">0.6</text>
<text x="1053.99" y="360.40" font-weight="bold" style="font-size:22.30px" textLength="37.92" lengthAdjust="spacingAndGlyphs">0.8</text>
<text x="1135.06" y="360.40" font-weight="bold" style="font-size:22.30px" textLength="37.68" lengthAdjust="spacingAndGlyphs">1.0</text>
<text x="1216.64" y="360.40" font-weight="bold" style="font-size:22.30px" textLength="36.74" lengthAdjust="spacingAndGlyphs">1.2</text>
<text x="920.10" y="386.70" font-weight="normal" style="font-size:22.10px" textLength="140.39" lengthAdjust="spacingAndGlyphs">Time Horizon</text>

<text transform="translate(666.80,167.90) rotate(-90)" x="-136.22" y="0" style="font-size:22.1px" textLength="272.11" lengthAdjust="spacingAndGlyphs">Progressive Mean Reward</text>
<text x="1209.63" y="385.30" font-weight="bold" style="font-size:22.30px" textLength="43.93" lengthAdjust="spacingAndGlyphs">1e6</text>
<text x="821.88" y="464.50" class="cap">(b) amazoncat-13k</text>
<clipPath id="clipc"><rect x="90.1" y="503.9" width="515.1" height="277.4"/></clipPath>
<path d="M113.20,503.9V781.3M179.45,503.9V781.3M245.70,503.9V781.3M311.95,503.9V781.3M378.20,503.9V781.3M444.45,503.9V781.3M510.70,503.9V781.3M576.95,503.9V781.3M90.1,768.20H605.2M90.1,675.90H605.2M90.1,583.60H605.2" stroke="#b0b0b0" stroke-width="1.3" fill="none"/>
<g clip-path="url(#clipc)">
<path d="M112.7,760.7 L112.7,767.4 L126.6,767.4 L126.8,764.9 L127.0,762.4 L127.2,759.9 L127.5,757.4 L127.7,754.9 L128.1,752.4 L128.4,749.9 L128.8,747.4 L129.2,745.0 L129.7,742.5 L130.1,740.1 L130.6,737.6 L131.2,735.2 L131.8,732.8 L132.4,730.4 L133.0,728.0 L133.6,725.5 L134.3,723.2 L135.1,720.8 L135.8,718.4 L136.6,716.0 L138.5,714.3 L140.4,712.6 L142.3,710.9 L144.3,709.3 L146.3,707.8 L148.4,706.3 L150.4,704.8 L152.5,703.4 L154.7,702.0 L156.8,700.7 L159.0,699.4 L161.2,698.1 L163.4,696.9 L165.7,695.7 L168.0,694.6 L170.3,693.5 L172.6,692.4 L174.9,691.4 L177.3,690.5 L179.7,689.5 L182.0,688.6 L184.4,687.7 L186.9,686.9 L189.3,686.1 L191.7,685.3 L194.2,684.6 L196.6,683.9 L199.1,683.2 L201.6,682.6 L204.1,682.0 L206.5,681.4 L209.0,680.8 L211.5,680.3 L214.0,679.8 L216.5,679.3 L219.0,678.9 L221.5,678.5 L223.8,677.1 L226.1,675.9 L228.4,674.6 L230.7,673.4 L233.0,672.3 L235.3,671.2 L237.7,670.2 L240.0,669.2 L242.3,668.2 L244.7,667.3 L247.0,666.5 L249.3,665.7 L251.7,664.9 L254.0,664.1 L256.4,663.4 L258.8,662.7 L261.1,662.0 L263.5,661.4 L265.9,660.8 L268.2,660.2 L270.6,659.6 L273.0,659.0 L275.4,658.5 L277.8,658.0 L280.2,657.4 L282.6,656.9 L285.0,656.4 L287.4,655.9 L289.8,655.4 L292.2,654.9 L294.6,654.5 L297.0,654.0 L299.5,653.5 L301.9,653.0 L304.3,652.5 L306.7,652.1 L309.2,651.6 L311.6,651.1 L314.0,650.6 L316.5,650.2 L318.9,649.7 L321.4,649.3 L323.8,648.8 L326.3,648.4 L328.7,647.9 L331.2,647.5 L333.6,647.0 L336.1,646.6 L338.5,646.1 L341.0,645.7 L343.4,645.2 L345.9,644.8 L348.4,644.4 L350.8,643.9 L353.3,643.5 L355.8,643.1 L358.3,642.7 L360.7,642.2 L363.2,641.8 L365.7,641.4 L368.2,641.0 L370.6,640.6 L373.1,640.2 L375.6,639.8 L378.1,639.4 L380.5,639.0 L383.0,638.6 L385.5,638.2 L388.0,637.8 L390.5,637.4 L393.0,637.0 L395.5,636.6 L397.9,636.2 L400.4,635.8 L402.9,635.4 L405.4,635.1 L407.9,634.7 L410.4,634.3 L412.9,633.9 L415.4,633.6 L417.9,633.2 L420.4,632.9 L422.8,632.5 L425.3,632.2 L427.8,631.8 L430.3,631.5 L432.8,631.2 L435.3,630.8 L437.8,630.5 L440.3,630.2 L442.8,629.9 L445.3,629.6 L447.8,629.3 L450.3,629.0 L452.8,628.7 L455.3,628.4 L457.8,628.2 L460.3,627.9 L462.8,627.6 L465.3,627.4 L467.8,627.1 L470.3,626.9 L472.8,626.6 L475.3,626.4 L477.8,626.2 L480.2,626.0 L482.7,625.8 L485.2,625.6 L487.7,625.4 L490.2,625.2 L492.7,625.0 L495.2,624.8 L497.7,624.7 L500.2,624.5 L502.7,624.3 L505.2,624.2 L507.7,624.0 L510.2,623.8 L512.7,623.7 L515.2,623.5 L517.7,623.4 L520.2,623.2 L522.6,623.0 L525.1,622.9 L527.6,622.7 L530.1,622.5 L532.6,622.3 L535.1,622.1 L537.6,622.0 L540.1,621.8 L542.5,621.5 L545.0,621.3 L547.5,621.1 L550.0,620.9 L552.5,620.6 L554.9,620.4 L557.4,620.1 L559.9,619.8 L562.4,619.5 L564.9,619.2 L567.3,618.9 L569.8,618.6 L572.3,618.2 L574.8,617.9 L577.2,617.5 L579.7,617.1" fill="none" stroke="#1f77b4" stroke-width="4.5" stroke-linecap="butt" stroke-linejoin="round" stroke-dasharray="16.65 7.20"/>
<path d="M112.7,767.4 L126.6,767.4 L126.9,764.9 L127.3,762.4 L127.6,759.9 L127.9,757.4 L128.3,754.8 L128.6,752.3 L128.9,749.8 L129.3,747.3 L129.6,744.8 L130.0,742.3 L130.4,739.8 L130.8,737.4 L131.2,734.9 L131.6,732.4 L132.1,730.0 L132.6,727.5 L133.1,725.1 L133.7,722.6 L134.3,720.2 L134.9,717.8 L135.6,715.4 L136.3,713.0 L137.1,710.7 L137.9,708.3 L138.8,706.0 L139.7,703.6 L140.7,701.3 L141.7,699.0 L142.8,696.8 L143.9,694.5 L145.0,692.3 L146.2,690.1 L147.5,687.9 L148.8,685.7 L150.1,683.6 L151.5,681.4 L152.9,679.3 L154.3,677.3 L155.8,675.2 L157.3,673.2 L158.9,671.2 L160.5,669.2 L162.1,667.3 L163.8,665.4 L165.4,663.5 L167.1,661.6 L168.7,659.8 L170.3,657.9 L172.0,656.1 L173.6,654.3 L175.3,652.5 L177.0,650.7 L178.7,648.9 L180.4,647.1 L182.1,645.3 L183.9,643.5 L185.8,641.8 L187.6,640.1 L189.6,638.5 L191.5,637.0 L193.6,635.5 L195.6,634.1 L197.7,632.7 L199.9,631.3 L202.1,630.1 L204.3,628.8 L206.5,627.6 L208.7,626.5 L211.0,625.3 L213.3,624.2 L215.6,623.1 L217.8,622.1 L220.1,621.0 L222.4,620.0 L224.2,618.0 L226.0,616.1 L227.8,614.3 L229.7,612.4 L231.6,610.7 L233.5,609.0 L235.4,607.3 L237.4,605.7 L239.3,604.2 L241.3,602.7 L243.3,601.2 L245.4,599.8 L247.4,598.5 L249.5,597.2 L251.6,595.9 L253.7,594.7 L255.8,593.5 L258.0,592.4 L260.1,591.3 L262.3,590.2 L264.4,589.2 L266.6,588.2 L268.8,587.2 L271.1,586.2 L273.3,585.2 L275.5,584.3 L277.8,583.3 L280.0,582.4 L282.3,581.5 L284.5,580.5 L286.8,579.6 L289.1,578.7 L291.4,577.7 L293.7,576.8 L296.0,575.9 L298.3,575.0 L300.6,574.1 L303.0,573.1 L305.3,572.2 L307.6,571.3 L310.0,570.4 L312.3,569.6 L314.7,568.7 L317.0,567.8 L319.4,566.9 L321.8,566.0 L324.2,565.2 L326.5,564.3 L328.9,563.5 L331.3,562.6 L333.7,561.8 L336.1,561.0 L338.5,560.2 L340.9,559.3 L343.3,558.5 L345.7,557.7 L348.1,557.0 L350.6,556.2 L353.0,555.4 L355.4,554.7 L357.8,553.9 L360.2,553.2 L362.7,552.4 L365.1,551.7 L367.5,551.0 L370.0,550.3 L372.4,549.6 L374.8,549.0 L377.3,548.3 L379.7,547.6 L382.1,547.0 L384.6,546.4 L387.0,545.7 L389.5,545.1 L391.9,544.5 L394.3,544.0 L396.8,543.4 L399.2,542.8 L401.7,542.3 L404.1,541.7 L406.5,541.2 L409.0,540.7 L411.4,540.1 L413.9,539.6 L416.3,539.1 L418.8,538.6 L421.2,538.2 L423.7,537.7 L426.1,537.2 L428.6,536.8 L431.0,536.3 L433.4,535.9 L435.9,535.4 L438.3,535.0 L440.8,534.6 L443.3,534.2 L445.7,533.8 L448.2,533.4 L450.6,533.0 L453.1,532.6 L455.5,532.2 L458.0,531.9 L460.4,531.5 L462.9,531.1 L465.4,530.8 L467.8,530.4 L470.3,530.1 L472.7,529.7 L475.2,529.4 L477.7,529.0 L480.1,528.7 L482.6,528.4 L485.0,528.1 L487.5,527.7 L490.0,527.4 L492.4,527.1 L494.9,526.8 L497.4,526.5 L499.9,526.2 L502.3,525.9 L504.8,525.6 L507.3,525.3 L509.7,525.0 L512.2,524.7 L514.7,524.4 L517.2,524.1 L519.6,523.8 L522.1,523.5 L524.6,523.2 L527.1,522.9 L529.6,522.6 L532.0,522.4 L534.5,522.1 L537.0,521.8 L539.5,521.5 L542.0,521.2 L544.5,520.9 L547.0,520.6 L549.5,520.3 L551.9,520.0 L554.4,519.7 L556.9,519.4 L559.4,519.1 L561.9,518.8 L564.4,518.5 L566.9,518.2 L569.4,517.9 L571.9,517.6 L574.4,517.3 L576.9,516.9 L579.4,516.6 L581.9,516.3" fill="none" stroke="#ff7f0e" stroke-width="4.5" stroke-linecap="square" stroke-linejoin="round"/>
<path d="M112.7,767.4 L126.6,767.4 L126.4,764.9 L126.4,762.5 L126.5,760.1 L126.9,757.6 L127.4,755.2 L128.0,752.8 L128.7,750.4 L129.6,748.1 L130.5,745.7 L131.5,743.3 L132.6,741.0 L133.6,738.6 L134.7,736.2 L135.8,733.9 L136.9,731.6 L137.9,729.2 L138.9,726.9 L139.9,724.6 L140.7,722.2 L141.6,719.9 L142.4,717.6 L143.1,715.2 L143.9,712.9 L144.7,710.6 L145.4,708.2 L146.2,705.9 L147.0,703.6 L147.8,701.2 L148.7,698.9 L149.6,696.5 L150.5,694.2 L151.4,691.9 L152.4,689.5 L153.4,687.2 L154.4,684.9 L155.5,682.6 L156.5,680.3 L157.7,678.0 L158.8,675.8 L160.0,673.5 L161.2,671.3 L162.4,669.1 L163.7,666.9 L165.0,664.8 L166.3,662.7 L167.7,660.6 L169.1,658.5 L170.5,656.5 L172.0,654.5 L173.5,652.5 L175.0,650.5 L176.6,648.6 L178.2,646.8 L179.9,645.0 L181.6,643.2 L183.3,641.4 L185.0,639.7 L186.8,638.1 L188.7,636.4 L190.5,634.8 L192.4,633.2 L194.3,631.7 L196.2,630.1 L198.2,628.6 L200.1,627.1 L202.1,625.7 L204.2,624.2 L206.2,622.7 L208.2,621.3 L210.3,619.9 L212.4,618.5 L214.5,617.0 L216.5,615.6 L218.7,614.2 L220.8,612.8 L222.9,611.4 L225.0,610.0 L227.1,608.5 L229.3,607.1 L231.4,605.7 L233.5,604.3 L235.7,602.9 L237.8,601.5 L240.0,600.1 L242.2,598.7 L244.3,597.4 L246.5,596.0 L248.7,594.7 L250.9,593.4 L253.1,592.1 L255.3,590.8 L257.5,589.6 L259.7,588.4 L261.9,587.2 L264.1,586.0 L266.3,584.9 L268.6,583.8 L270.8,582.7 L273.1,581.7 L275.3,580.7 L277.6,579.7 L279.8,578.7 L282.1,577.7 L284.4,576.8 L286.6,575.9 L288.9,575.0 L291.2,574.1 L293.5,573.2 L295.8,572.4 L298.1,571.6 L300.4,570.7 L302.7,569.9 L305.0,569.1 L307.4,568.3 L309.7,567.6 L312.0,566.8 L314.4,566.0 L316.7,565.3 L319.0,564.5 L321.4,563.8 L323.7,563.1 L326.1,562.3 L328.5,561.6 L330.8,560.9 L333.2,560.2 L335.6,559.5 L338.0,558.8 L340.3,558.1 L342.7,557.4 L345.1,556.8 L347.5,556.1 L349.9,555.4 L352.3,554.7 L354.7,554.1 L357.1,553.4 L359.5,552.7 L361.9,552.1 L364.3,551.4 L366.8,550.8 L369.2,550.2 L371.6,549.5 L374.0,548.9 L376.5,548.3 L378.9,547.7 L381.3,547.0 L383.8,546.4 L386.2,545.8 L388.7,545.2 L391.1,544.7 L393.6,544.1 L396.0,543.5 L398.5,542.9 L400.9,542.4 L403.4,541.8 L405.8,541.3 L408.3,540.7 L410.8,540.2 L413.2,539.7 L415.7,539.2 L418.2,538.6 L420.6,538.1 L423.1,537.7 L425.6,537.2 L428.1,536.7 L430.6,536.2 L433.0,535.8 L435.5,535.3 L438.0,534.9 L440.5,534.4 L443.0,534.0 L445.4,533.6 L447.9,533.2 L450.4,532.8 L452.9,532.4 L455.4,532.0 L457.9,531.6 L460.4,531.3 L462.9,530.9 L465.4,530.5 L467.8,530.2 L470.3,529.9 L472.8,529.5 L475.3,529.2 L477.8,528.9 L480.3,528.6 L482.8,528.2 L485.3,527.9 L487.8,527.6 L490.3,527.3 L492.8,527.0 L495.3,526.7 L497.8,526.5 L500.3,526.2 L502.8,525.9 L505.2,525.6 L507.7,525.3 L510.2,525.0 L512.7,524.8 L515.2,524.5 L517.7,524.2 L520.2,523.9 L522.7,523.7 L525.2,523.4 L527.6,523.1 L530.1,522.8 L532.6,522.6 L535.1,522.3 L537.6,522.0 L540.0,521.7 L542.5,521.4 L545.0,521.1 L547.5,520.8 L549.9,520.6 L552.4,520.3 L554.9,520.0 L557.3,519.6 L559.8,519.3 L562.3,519.0 L564.7,518.7 L567.2,518.4 L569.6,518.0 L572.1,517.7 L574.6,517.4 L577.0,517.0 L579.5,516.7 L581.9,516.3" fill="none" stroke="#2ca02c" stroke-width="4.5" stroke-linecap="butt" stroke-linejoin="round" stroke-dasharray="28.80 7.20 4.50 7.20"/>
<path d="M112.7,767.4 L126.6,767.4 L126.8,765.0 L127.0,762.5 L127.3,760.0 L127.6,757.6 L127.9,755.1 L128.2,752.6 L128.5,750.1 L128.9,747.6 L129.3,745.1 L129.7,742.6 L130.2,740.2 L130.7,737.7 L131.2,735.2 L131.8,732.7 L132.4,730.3 L133.0,727.8 L133.6,725.4 L134.3,723.0 L135.0,720.5 L135.8,718.1 L136.6,715.7 L137.5,713.4 L138.4,711.0 L139.3,708.7 L140.2,706.4 L141.3,704.1 L142.3,701.8 L143.4,699.5 L144.6,697.3 L145.8,695.1 L147.0,693.0 L148.3,690.8 L149.6,688.7 L151.0,686.6 L152.4,684.5 L153.9,682.5 L155.4,680.5 L156.9,678.5 L158.4,676.6 L160.0,674.6 L161.7,672.8 L163.3,670.9 L165.0,669.1 L166.7,667.2 L168.5,665.5 L170.3,663.7 L172.1,662.0 L173.9,660.3 L175.8,658.7 L177.6,657.0 L179.5,655.4 L181.5,653.9 L183.4,652.3 L185.4,650.8 L187.3,649.3 L189.3,647.9 L191.4,646.4 L193.4,645.0 L195.4,643.6 L197.5,642.2 L199.5,640.8 L201.6,639.5 L203.7,638.1 L205.8,636.8 L207.9,635.4 L210.0,634.1 L212.1,632.8 L214.3,631.4 L216.4,630.1 L218.5,628.8 L220.6,627.4 L222.8,626.1 L224.9,624.7 L227.0,623.4 L229.2,622.0 L231.3,620.6 L233.4,619.2 L235.5,617.8 L237.7,616.4 L239.8,615.0 L241.9,613.6 L244.1,612.3 L246.2,610.9 L248.4,609.5 L250.5,608.1 L252.7,606.8 L254.9,605.5 L257.0,604.2 L259.2,602.9 L261.4,601.6 L263.6,600.4 L265.8,599.3 L268.0,598.1 L270.2,597.0 L272.4,595.9 L274.7,594.9 L276.9,593.9 L279.1,592.9 L281.4,591.9 L283.7,590.9 L285.9,590.0 L288.2,589.1 L290.5,588.2 L292.8,587.3 L295.1,586.4 L297.4,585.6 L299.7,584.7 L302.0,583.9 L304.3,583.1 L306.6,582.3 L309.0,581.5 L311.3,580.7 L313.6,579.9 L316.0,579.1 L318.3,578.3 L320.7,577.5 L323.0,576.7 L325.4,576.0 L327.8,575.2 L330.1,574.4 L332.5,573.7 L334.9,572.9 L337.3,572.1 L339.7,571.4 L342.1,570.6 L344.5,569.8 L346.9,569.1 L349.3,568.3 L351.7,567.6 L354.1,566.8 L356.5,566.1 L358.9,565.3 L361.4,564.6 L363.8,563.9 L366.2,563.1 L368.6,562.4 L371.1,561.7 L373.5,561.0 L376.0,560.3 L378.4,559.6 L380.8,558.9 L383.3,558.2 L385.7,557.5 L388.2,556.8 L390.6,556.2 L393.1,555.5 L395.5,554.9 L398.0,554.2 L400.4,553.6 L402.9,553.0 L405.3,552.4 L407.8,551.8 L410.2,551.2 L412.7,550.7 L415.1,550.1 L417.6,549.6 L420.1,549.0 L422.5,548.5 L425.0,548.0 L427.4,547.5 L429.9,547.0 L432.3,546.6 L434.8,546.1 L437.3,545.6 L439.7,545.2 L442.2,544.8 L444.6,544.3 L447.1,543.9 L449.6,543.5 L452.0,543.1 L454.5,542.7 L456.9,542.3 L459.4,541.9 L461.9,541.6 L464.3,541.2 L466.8,540.8 L469.3,540.5 L471.7,540.1 L474.2,539.8 L476.7,539.4 L479.1,539.1 L481.6,538.8 L484.1,538.4 L486.5,538.1 L489.0,537.8 L491.5,537.5 L493.9,537.1 L496.4,536.8 L498.9,536.5 L501.3,536.2 L503.8,535.9 L506.3,535.6 L508.8,535.3 L511.2,535.0 L513.7,534.6 L516.2,534.3 L518.7,534.0 L521.1,533.7 L523.6,533.4 L526.1,533.1 L528.6,532.8 L531.0,532.5 L533.5,532.1 L536.0,531.8 L538.5,531.5 L541.0,531.2 L543.5,530.8 L545.9,530.5 L548.4,530.1 L550.9,529.8 L553.4,529.5 L555.9,529.1 L558.4,528.7 L560.9,528.4 L563.3,528.0 L565.8,527.6 L568.3,527.2 L570.8,526.8 L573.3,526.4 L575.8,526.0 L578.3,525.6" fill="none" stroke="#d62728" stroke-width="4.5" stroke-linecap="butt" stroke-linejoin="round" stroke-dasharray="4.50 7.42"/>
</g>
<rect x="90.1" y="503.9" width="515.1" height="277.4" fill="none" stroke="#000" stroke-width="1.5"/>
<path d="M113.20,781.3v5M179.45,781.3v5M245.70,781.3v5M311.95,781.3v5M378.20,781.3v5M444.45,781.3v5M510.70,781.3v5M576.95,781.3v5M90.1,768.20h-5M90.1,675.90h-5M90.1,583.60h-5" stroke="#000" stroke-width="1.5" fill="none"/>
<text x="41.53" y="775.80" font-weight="bold" style="font-size:22.30px" textLength="38.64" lengthAdjust="spacingAndGlyphs">0.0</text>
<text x="42.05" y="683.50" font-weight="bold" style="font-size:22.30px" textLength="37.79" lengthAdjust="spacingAndGlyphs">0.5</text>
<text x="42.46" y="591.20" font-weight="bold" style="font-size:22.30px" textLength="37.68" lengthAdjust="spacingAndGlyphs">1.0</text>
<text transform="translate(111.60,802.16) rotate(-40)" x="-7.62" y="8.08" font-weight="bold" style="font-size:22.30px" textLength="15.27" lengthAdjust="spacingAndGlyphs">0</text>
<text transform="translate(177.85,821.62) rotate(-40)" x="-37.32" y="8.08" font-weight="bold" style="font-size:22.30px" textLength="74.81" lengthAdjust="spacingAndGlyphs">20000</text>
<text transform="translate(244.10,821.62) rotate(-40)" x="-37.26" y="8.08" font-weight="bold" style="font-size:22.30px" textLength="75.12" lengthAdjust="spacingAndGlyphs">40000</text>
<text transform="translate(310.35,821.62) rotate(-40)" x="-37.67" y="8.08" font-weight="bold" style="font-size:22.30px" textLength="75.35" lengthAdjust="spacingAndGlyphs">60000</text>
<text transform="translate(376.60,821.62) rotate(-40)" x="-37.52" y="8.08" font-weight="bold" style="font-size:22.30px" textLength="75.20" lengthAdjust="spacingAndGlyphs">80000</text>
<text transform="translate(442.85,826.48) rotate(-40)" x="-45.25" y="8.08" font-weight="bold" style="font-size:22.30px" textLength="89.96" lengthAdjust="spacingAndGlyphs">100000</text>
<text transform="translate(509.10,826.48) rotate(-40)" x="-45.25" y="8.08" font-weight="bold" style="font-size:22.30px" textLength="89.96" lengthAdjust="spacingAndGlyphs">120000</text>
<text transform="translate(575.35,826.48) rotate(-40)" x="-45.25" y="8.08" font-weight="bold" style="font-size:22.30px" textLength="89.96" lengthAdjust="spacingAndGlyphs">140000</text>
<text x="278.00" y="886.60" font-weight="normal" style="font-size:22.10px" textLength="140.39" lengthAdjust="spacingAndGlyphs">Time Horizon</text>

<text transform="translate(31.75,641.60) rotate(-90)" x="-136.22" y="0" style="font-size:22.1px" textLength="272.11" lengthAdjust="spacingAndGlyphs">Progressive Mean Reward</text>
<text x="199.62" y="962.50" class="cap">(c) wiki10-31k</text>
<clipPath id="clipd"><rect x="739.7" y="503.9" width="515.3" height="309.70000000000005"/></clipPath>
<path d="M763.50,503.9V813.6M827.95,503.9V813.6M892.40,503.9V813.6M956.85,503.9V813.6M1021.30,503.9V813.6M1085.75,503.9V813.6M1150.20,503.9V813.6M1214.65,503.9V813.6M739.7,799.70H1255M739.7,742.50H1255M739.7,685.30H1255M739.7,628.10H1255M739.7,570.90H1255M739.7,513.70H1255" stroke="#b0b0b0" stroke-width="1.3" fill="none"/>
<g clip-path="url(#clipd)">
<path d="M762.8,798.1 L767.0,798.1 L767.2,795.7 L767.4,793.4 L767.5,791.0 L767.6,788.6 L767.7,786.2 L767.8,783.7 L767.9,781.3 L767.9,778.8 L767.9,776.3 L768.0,773.8 L768.0,771.3 L767.9,768.8 L767.9,766.3 L767.9,763.8 L767.9,761.2 L767.8,758.7 L767.8,756.1 L767.8,753.6 L767.7,751.0 L767.7,748.4 L767.7,745.9 L767.7,743.3 L767.7,740.7 L767.7,738.2 L767.8,735.6 L767.8,733.0 L767.9,730.5 L768.0,727.9 L768.1,725.3 L768.2,722.8 L768.4,720.2 L768.6,717.7 L768.8,715.2 L769.1,712.6 L769.4,710.1 L769.7,707.6 L770.1,705.1 L770.5,702.6 L771.0,700.2 L771.4,697.7 L772.0,695.3 L772.6,692.8 L773.2,690.4 L773.9,688.0 L774.6,685.7 L775.3,683.3 L776.1,681.0 L777.0,678.7 L777.9,676.4 L778.8,674.1 L779.8,671.8 L780.9,669.6 L782.0,667.4 L783.1,665.2 L784.3,663.1 L785.6,661.0 L786.9,658.9 L788.2,656.8 L789.6,654.8 L791.0,652.8 L792.5,650.8 L794.0,648.8 L795.6,646.9 L797.2,645.0 L798.9,643.2 L800.6,641.4 L802.3,639.6 L804.1,637.8 L805.9,636.1 L807.8,634.4 L809.7,632.7 L811.6,631.1 L813.6,629.5 L815.6,628.0 L817.6,626.5 L819.7,625.0 L821.8,623.5 L823.9,622.1 L826.0,620.8 L828.2,619.5 L830.4,618.2 L832.6,616.9 L834.9,615.7 L837.1,614.6 L839.4,613.4 L841.7,612.3 L844.0,611.3 L846.3,610.3 L848.7,609.4 L851.0,608.4 L853.3,607.6 L855.7,606.8 L858.1,606.0 L860.4,605.2 L862.8,604.6 L865.2,603.9 L867.6,603.3 L870.0,602.7 L872.4,602.1 L874.8,601.6 L877.2,601.1 L879.6,600.6 L882.0,600.2 L884.4,599.7 L886.9,599.3 L889.3,598.9 L891.7,598.5 L894.2,598.2 L896.6,597.8 L899.1,597.4 L901.5,597.1 L904.0,596.8 L906.5,596.4 L908.9,596.1 L911.4,595.8 L913.9,595.5 L916.3,595.2 L918.8,594.9 L921.3,594.6 L923.8,594.4 L926.3,594.1 L928.8,593.8 L931.2,593.5 L933.7,593.3 L936.2,593.0 L938.7,592.8 L941.2,592.5 L943.7,592.2 L946.3,592.0 L948.8,591.8 L951.3,591.5 L953.8,591.3 L956.3,591.0 L958.8,590.8 L961.3,590.6 L963.8,590.3 L966.4,590.1 L968.9,589.9 L971.4,589.7 L973.9,589.5 L976.4,589.2 L979.0,589.0 L981.5,588.8 L984.0,588.6 L986.5,588.4 L989.0,588.2 L991.6,588.0 L994.1,587.8 L996.6,587.6 L999.1,587.4 L1001.6,587.2 L1004.2,587.0 L1006.7,586.8 L1009.2,586.6 L1011.7,586.4 L1014.2,586.2 L1016.7,586.0 L1019.3,585.8 L1021.8,585.6 L1024.3,585.4 L1026.8,585.2 L1029.3,585.1 L1031.8,584.9 L1034.3,584.7 L1036.8,584.5 L1039.3,584.3 L1041.8,584.1 L1044.3,583.9 L1046.8,583.7 L1049.3,583.6 L1051.8,583.4 L1054.3,583.2 L1056.8,583.0 L1059.2,582.8 L1061.7,582.6 L1064.2,582.5 L1066.7,582.3 L1069.2,582.1 L1071.7,581.9 L1074.2,581.7 L1076.7,581.6 L1079.1,581.4 L1081.6,581.2 L1084.1,581.0 L1086.6,580.9 L1089.1,580.7 L1091.6,580.5 L1094.0,580.4 L1096.5,580.2 L1099.0,580.0 L1101.5,579.9 L1104.0,579.7 L1106.4,579.5 L1108.9,579.4 L1111.4,579.2 L1113.9,579.1 L1116.4,578.9 L1118.9,578.7 L1121.3,578.6 L1123.8,578.4 L1126.3,578.3 L1128.8,578.1 L1131.3,578.0 L1133.7,577.8 L1136.2,577.7 L1138.7,577.6 L1141.2,577.4 L1143.7,577.3 L1146.2,577.1 L1148.7,577.0 L1151.2,576.9 L1153.6,576.7 L1156.1,576.6 L1158.6,576.5 L1161.1,576.3 L1163.6,576.2 L1166.1,576.1 L1168.6,576.0 L1171.1,575.8 L1173.6,575.7 L1176.1,575.6 L1178.6,575.5 L1181.1,575.4 L1183.6,575.3 L1186.1,575.1 L1188.6,575.0 L1191.1,574.9 L1193.6,574.8 L1196.2,574.7 L1198.7,574.6 L1201.2,574.5 L1203.7,574.4 L1206.2,574.3 L1208.7,574.2 L1211.3,574.2 L1213.8,574.1 L1216.3,574.0 L1218.9,573.9 L1221.4,573.8 L1223.9,573.7 L1226.5,573.7 L1229.0,573.6" fill="none" stroke="#1f77b4" stroke-width="4.5" stroke-linecap="butt" stroke-linejoin="round" stroke-dasharray="16.65 7.20"/>
<path d="M762.8,798.1 L767.0,798.1 L767.2,795.8 L767.4,793.4 L767.5,791.0 L767.7,788.6 L767.8,786.2 L767.9,783.8 L768.0,781.4 L768.1,778.9 L768.2,776.5 L768.3,774.0 L768.3,771.5 L768.4,769.0 L768.4,766.5 L768.4,764.0 L768.5,761.5 L768.5,759.0 L768.5,756.5 L768.5,753.9 L768.6,751.4 L768.6,748.8 L768.6,746.3 L768.6,743.7 L768.6,741.2 L768.6,738.6 L768.7,736.1 L768.7,733.5 L768.7,730.9 L768.7,728.3 L768.8,725.8 L768.8,723.2 L768.9,720.6 L768.9,718.1 L769.0,715.5 L769.1,712.9 L769.2,710.4 L769.3,707.8 L769.4,705.3 L769.5,702.7 L769.7,700.2 L769.8,697.6 L770.0,695.1 L770.2,692.6 L770.4,690.0 L770.6,687.5 L770.9,685.0 L771.1,682.5 L771.4,680.0 L771.7,677.6 L772.1,675.1 L772.4,672.6 L772.8,670.2 L773.3,667.8 L773.7,665.4 L774.2,662.9 L774.8,660.6 L775.3,658.2 L776.0,655.8 L776.6,653.5 L777.3,651.1 L778.1,648.8 L778.9,646.5 L779.7,644.2 L780.7,642.0 L781.6,639.7 L782.7,637.5 L783.7,635.3 L784.9,633.1 L786.0,631.0 L787.3,628.9 L788.6,626.7 L789.9,624.7 L791.4,622.6 L792.8,620.6 L794.3,618.6 L795.9,616.7 L797.5,614.7 L799.2,612.9 L801.0,611.0 L802.8,609.2 L804.6,607.4 L806.5,605.7 L808.4,604.0 L810.4,602.3 L812.4,600.7 L814.4,599.1 L816.5,597.6 L818.6,596.1 L820.7,594.7 L822.9,593.3 L825.0,592.0 L827.2,590.7 L829.4,589.4 L831.6,588.3 L833.8,587.1 L836.1,586.0 L838.3,585.0 L840.5,584.0 L842.8,583.1 L845.1,582.2 L847.3,581.3 L849.6,580.5 L851.9,579.7 L854.2,578.9 L856.5,578.2 L858.9,577.5 L861.2,576.8 L863.5,576.1 L865.9,575.5 L868.2,574.9 L870.6,574.3 L872.9,573.7 L875.3,573.1 L877.7,572.6 L880.1,572.0 L882.5,571.5 L884.9,571.0 L887.3,570.4 L889.7,569.9 L892.1,569.4 L894.6,568.8 L897.0,568.3 L899.4,567.8 L901.9,567.2 L904.3,566.7 L906.8,566.2 L909.2,565.6 L911.7,565.1 L914.1,564.6 L916.6,564.0 L919.1,563.5 L921.6,563.0 L924.0,562.5 L926.5,561.9 L929.0,561.4 L931.5,560.9 L934.0,560.4 L936.5,560.0 L939.0,559.5 L941.5,559.0 L944.0,558.6 L946.5,558.1 L949.0,557.7 L951.5,557.2 L954.0,556.8 L956.5,556.4 L959.0,556.0 L961.5,555.6 L964.0,555.2 L966.6,554.9 L969.1,554.5 L971.6,554.2 L974.1,553.9 L976.6,553.5 L979.1,553.2 L981.6,552.9 L984.1,552.6 L986.6,552.3 L989.2,552.0 L991.7,551.7 L994.2,551.4 L996.7,551.1 L999.2,550.8 L1001.7,550.5 L1004.2,550.2 L1006.7,549.9 L1009.2,549.6 L1011.7,549.4 L1014.1,549.1 L1016.6,548.8 L1019.1,548.5 L1021.6,548.2 L1024.1,547.9 L1026.6,547.6 L1029.1,547.4 L1031.5,547.1 L1034.0,546.8 L1036.5,546.5 L1039.0,546.3 L1041.5,546.0 L1043.9,545.7 L1046.4,545.4 L1048.9,545.2 L1051.3,544.9 L1053.8,544.6 L1056.3,544.4 L1058.8,544.1 L1061.2,543.9 L1063.7,543.6 L1066.2,543.3 L1068.6,543.1 L1071.1,542.8 L1073.6,542.6 L1076.0,542.3 L1078.5,542.1 L1081.0,541.8 L1083.4,541.6 L1085.9,541.4 L1088.4,541.1 L1090.8,540.9 L1093.3,540.6 L1095.8,540.4 L1098.2,540.2 L1100.7,539.9 L1103.2,539.7 L1105.6,539.5 L1108.1,539.3 L1110.6,539.0 L1113.0,538.8 L1115.5,538.6 L1118.0,538.4 L1120.4,538.2 L1122.9,538.0 L1125.4,537.8 L1127.9,537.6 L1130.3,537.4 L1132.8,537.2 L1135.3,537.0 L1137.8,536.8 L1140.2,536.6 L1142.7,536.4 L1145.2,536.2 L1147.7,536.0 L1150.1,535.8 L1152.6,535.6 L1155.1,535.5 L1157.6,535.3 L1160.1,535.1 L1162.6,535.0 L1165.1,534.8 L1167.5,534.6 L1170.0,534.5 L1172.5,534.3 L1175.0,534.2 L1177.5,534.0 L1180.0,533.9 L1182.5,533.7 L1185.0,533.6 L1187.5,533.4 L1190.0,533.3 L1192.5,533.2 L1195.1,533.0 L1197.6,532.9 L1200.1,532.8 L1202.6,532.7 L1205.1,532.6 L1207.6,532.4 L1210.2,532.3 L1212.7,532.2 L1215.2,532.1 L1217.8,532.0 L1220.3,531.9 L1222.8,531.8 L1225.4,531.7 L1227.9,531.7 L1230.5,531.6 L1233.0,531.5" fill="none" stroke="#ff7f0e" stroke-width="4.5" stroke-linecap="square" stroke-linejoin="round"/>
<path d="M762.8,798.1 L767.0,798.1 L767.2,795.7 L767.4,793.3 L767.6,790.8 L767.7,788.4 L767.8,785.9 L768.0,783.5 L768.1,781.0 L768.2,778.5 L768.3,776.1 L768.3,773.6 L768.4,771.1 L768.5,768.6 L768.5,766.1 L768.6,763.6 L768.6,761.1 L768.6,758.6 L768.6,756.1 L768.7,753.5 L768.7,751.0 L768.7,748.5 L768.7,746.0 L768.7,743.4 L768.7,740.9 L768.7,738.4 L768.8,735.8 L768.8,733.3 L768.8,730.8 L768.8,728.2 L768.9,725.7 L768.9,723.1 L768.9,720.6 L769.0,718.0 L769.1,715.5 L769.1,713.0 L769.2,710.4 L769.3,707.9 L769.4,705.3 L769.5,702.8 L769.6,700.3 L769.8,697.8 L770.0,695.2 L770.1,692.7 L770.3,690.2 L770.5,687.7 L770.8,685.1 L771.0,682.6 L771.3,680.1 L771.6,677.6 L771.9,675.1 L772.3,672.7 L772.7,670.2 L773.1,667.7 L773.5,665.3 L774.0,662.8 L774.5,660.4 L775.1,658.0 L775.8,655.6 L776.4,653.2 L777.2,650.9 L777.9,648.5 L778.8,646.2 L779.7,643.9 L780.6,641.7 L781.7,639.4 L782.8,637.2 L783.9,635.0 L785.1,632.8 L786.3,630.7 L787.6,628.6 L789.0,626.5 L790.4,624.4 L791.9,622.4 L793.4,620.4 L794.9,618.4 L796.5,616.5 L798.1,614.6 L799.8,612.7 L801.5,610.8 L803.3,609.0 L805.1,607.2 L806.9,605.5 L808.7,603.7 L810.6,602.0 L812.5,600.4 L814.5,598.8 L816.4,597.2 L818.4,595.6 L820.4,594.1 L822.5,592.6 L824.5,591.1 L826.6,589.7 L828.7,588.3 L830.8,587.0 L832.9,585.7 L835.0,584.4 L837.2,583.2 L839.3,582.0 L841.5,580.8 L843.7,579.7 L845.9,578.6 L848.1,577.5 L850.3,576.5 L852.6,575.5 L854.8,574.5 L857.1,573.5 L859.3,572.6 L861.6,571.7 L863.9,570.8 L866.2,569.9 L868.5,569.1 L870.9,568.3 L873.2,567.5 L875.5,566.7 L877.9,565.9 L880.2,565.2 L882.6,564.4 L885.0,563.7 L887.4,563.0 L889.8,562.3 L892.2,561.7 L894.6,561.0 L897.0,560.3 L899.4,559.7 L901.8,559.1 L904.3,558.5 L906.7,557.8 L909.2,557.3 L911.6,556.7 L914.1,556.1 L916.5,555.5 L919.0,555.0 L921.5,554.4 L924.0,553.9 L926.4,553.4 L928.9,552.8 L931.4,552.3 L933.9,551.8 L936.4,551.3 L938.9,550.8 L941.4,550.4 L943.9,549.9 L946.4,549.4 L948.9,549.0 L951.4,548.5 L953.9,548.1 L956.4,547.6 L958.9,547.2 L961.4,546.8 L963.9,546.3 L966.4,545.9 L968.9,545.5 L971.4,545.1 L973.9,544.7 L976.4,544.3 L978.9,543.9 L981.4,543.5 L983.9,543.1 L986.4,542.7 L988.9,542.3 L991.4,541.9 L993.9,541.6 L996.4,541.2 L998.9,540.8 L1001.4,540.5 L1003.8,540.1 L1006.3,539.7 L1008.8,539.4 L1011.3,539.0 L1013.8,538.7 L1016.2,538.3 L1018.7,538.0 L1021.2,537.6 L1023.7,537.3 L1026.1,537.0 L1028.6,536.6 L1031.1,536.3 L1033.5,536.0 L1036.0,535.6 L1038.5,535.3 L1040.9,535.0 L1043.4,534.7 L1045.9,534.4 L1048.3,534.1 L1050.8,533.8 L1053.3,533.4 L1055.7,533.1 L1058.2,532.8 L1060.7,532.6 L1063.1,532.3 L1065.6,532.0 L1068.0,531.7 L1070.5,531.4 L1073.0,531.1 L1075.4,530.8 L1077.9,530.6 L1080.3,530.3 L1082.8,530.0 L1085.3,529.7 L1087.7,529.5 L1090.2,529.2 L1092.7,528.9 L1095.1,528.7 L1097.6,528.4 L1100.0,528.2 L1102.5,527.9 L1105.0,527.7 L1107.4,527.4 L1109.9,527.2 L1112.4,526.9 L1114.8,526.7 L1117.3,526.4 L1119.8,526.2 L1122.2,526.0 L1124.7,525.7 L1127.2,525.5 L1129.7,525.3 L1132.1,525.0 L1134.6,524.8 L1137.1,524.6 L1139.6,524.4 L1142.0,524.1 L1144.5,523.9 L1147.0,523.7 L1149.5,523.5 L1152.0,523.3 L1154.4,523.1 L1156.9,522.9 L1159.4,522.7 L1161.9,522.4 L1164.4,522.2 L1166.9,522.0 L1169.4,521.8 L1171.9,521.6 L1174.4,521.4 L1176.9,521.2 L1179.4,521.0 L1181.9,520.9 L1184.4,520.7 L1186.9,520.5 L1189.4,520.3 L1191.9,520.1 L1194.5,519.9 L1197.0,519.7 L1199.5,519.5 L1202.0,519.4 L1204.5,519.2 L1207.1,519.0 L1209.6,518.8 L1212.1,518.6 L1214.7,518.5 L1217.2,518.3 L1219.8,518.1 L1222.3,517.9 L1224.9,517.8 L1227.4,517.6" fill="none" stroke="#2ca02c" stroke-width="4.5" stroke-linecap="butt" stroke-linejoin="round" stroke-dasharray="28.80 7.20 4.50 7.20"/>
<path d="M762.8,798.1 L767.0,798.1 L767.2,795.7 L767.3,793.4 L767.5,791.0 L767.6,788.6 L767.7,786.2 L767.8,783.7 L767.9,781.3 L768.0,778.8 L768.0,776.4 L768.1,773.9 L768.2,771.4 L768.2,769.0 L768.3,766.5 L768.3,764.0 L768.3,761.4 L768.4,758.9 L768.4,756.4 L768.4,753.9 L768.4,751.3 L768.5,748.8 L768.5,746.2 L768.5,743.7 L768.5,741.1 L768.6,738.6 L768.6,736.0 L768.6,733.4 L768.7,730.9 L768.7,728.3 L768.8,725.8 L768.8,723.2 L768.9,720.6 L769.0,718.1 L769.0,715.5 L769.1,712.9 L769.2,710.4 L769.4,707.8 L769.5,705.3 L769.6,702.7 L769.8,700.2 L769.9,697.7 L770.1,695.1 L770.3,692.6 L770.5,690.1 L770.8,687.6 L771.0,685.1 L771.3,682.6 L771.6,680.1 L771.9,677.6 L772.2,675.2 L772.6,672.7 L772.9,670.3 L773.4,667.8 L773.8,665.4 L774.3,663.0 L774.8,660.6 L775.4,658.2 L776.0,655.9 L776.6,653.5 L777.3,651.2 L778.1,648.9 L778.9,646.6 L779.7,644.3 L780.6,642.0 L781.6,639.8 L782.6,637.5 L783.6,635.3 L784.7,633.1 L785.9,631.0 L787.1,628.8 L788.4,626.7 L789.8,624.6 L791.2,622.6 L792.6,620.5 L794.2,618.5 L795.7,616.6 L797.4,614.7 L799.1,612.8 L800.8,610.9 L802.6,609.1 L804.5,607.3 L806.4,605.6 L808.3,603.9 L810.3,602.3 L812.4,600.7 L814.4,599.1 L816.5,597.6 L818.6,596.2 L820.8,594.8 L823.0,593.4 L825.2,592.1 L827.4,590.9 L829.6,589.7 L831.8,588.6 L834.1,587.5 L836.3,586.5 L838.6,585.5 L840.9,584.6 L843.2,583.8 L845.4,582.9 L847.7,582.2 L850.1,581.4 L852.4,580.7 L854.7,580.1 L857.0,579.4 L859.4,578.8 L861.7,578.2 L864.1,577.7 L866.5,577.1 L868.8,576.6 L871.2,576.1 L873.6,575.6 L876.0,575.2 L878.4,574.7 L880.8,574.2 L883.2,573.8 L885.6,573.3 L888.1,572.9 L890.5,572.4 L892.9,572.0 L895.4,571.5 L897.8,571.1 L900.3,570.6 L902.7,570.1 L905.2,569.6 L907.7,569.2 L910.1,568.7 L912.6,568.2 L915.1,567.7 L917.6,567.2 L920.1,566.8 L922.5,566.3 L925.0,565.8 L927.5,565.4 L930.0,564.9 L932.5,564.5 L935.0,564.0 L937.5,563.6 L940.0,563.1 L942.6,562.7 L945.1,562.3 L947.6,561.9 L950.1,561.5 L952.6,561.1 L955.1,560.8 L957.6,560.4 L960.2,560.1 L962.7,559.8 L965.2,559.5 L967.7,559.2 L970.2,558.9 L972.7,558.6 L975.3,558.3 L977.8,558.1 L980.3,557.8 L982.8,557.5 L985.3,557.3 L987.8,557.0 L990.3,556.8 L992.9,556.5 L995.4,556.3 L997.9,556.0 L1000.4,555.8 L1002.9,555.5 L1005.4,555.3 L1007.9,555.0 L1010.4,554.8 L1012.9,554.5 L1015.3,554.3 L1017.8,554.0 L1020.3,553.7 L1022.8,553.5 L1025.3,553.2 L1027.8,552.9 L1030.3,552.7 L1032.7,552.4 L1035.2,552.1 L1037.7,551.9 L1040.2,551.6 L1042.7,551.3 L1045.1,551.1 L1047.6,550.8 L1050.1,550.5 L1052.5,550.3 L1055.0,550.0 L1057.5,549.7 L1060.0,549.5 L1062.4,549.2 L1064.9,548.9 L1067.4,548.7 L1069.8,548.4 L1072.3,548.1 L1074.8,547.9 L1077.2,547.6 L1079.7,547.4 L1082.2,547.1 L1084.6,546.8 L1087.1,546.6 L1089.5,546.3 L1092.0,546.1 L1094.5,545.8 L1096.9,545.6 L1099.4,545.3 L1101.9,545.1 L1104.3,544.8 L1106.8,544.6 L1109.3,544.4 L1111.7,544.1 L1114.2,543.9 L1116.7,543.7 L1119.1,543.4 L1121.6,543.2 L1124.1,543.0 L1126.5,542.8 L1129.0,542.5 L1131.5,542.3 L1134.0,542.1 L1136.4,541.9 L1138.9,541.7 L1141.4,541.5 L1143.9,541.3 L1146.4,541.1 L1148.8,540.9 L1151.3,540.7 L1153.8,540.5 L1156.3,540.4 L1158.8,540.2 L1161.3,540.0 L1163.7,539.8 L1166.2,539.7 L1168.7,539.5 L1171.2,539.4 L1173.7,539.2 L1176.2,539.1 L1178.7,538.9 L1181.2,538.8 L1183.7,538.7 L1186.2,538.5 L1188.7,538.4 L1191.3,538.3 L1193.8,538.2 L1196.3,538.1 L1198.8,538.0 L1201.3,537.9 L1203.9,537.8 L1206.4,537.7 L1208.9,537.7 L1211.4,537.6 L1214.0,537.5 L1216.5,537.5 L1219.1,537.4 L1221.6,537.4 L1224.2,537.3 L1226.7,537.3" fill="none" stroke="#d62728" stroke-width="4.5" stroke-linecap="butt" stroke-linejoin="round" stroke-dasharray="4.50 7.42"/>
</g>
<rect x="739.7" y="503.9" width="515.3" height="309.70000000000005" fill="none" stroke="#000" stroke-width="1.5"/>
<path d="M763.50,813.6v5M827.95,813.6v5M892.40,813.6v5M956.85,813.6v5M1021.30,813.6v5M1085.75,813.6v5M1150.20,813.6v5M1214.65,813.6v5M739.7,799.70h-5M739.7,742.50h-5M739.7,685.30h-5M739.7,628.10h-5M739.7,570.90h-5M739.7,513.70h-5" stroke="#000" stroke-width="1.5" fill="none"/>
<text x="676.01" y="807.30" font-weight="bold" style="font-size:22.30px" textLength="53.78" lengthAdjust="spacingAndGlyphs">0.00</text>
<text x="676.53" y="750.10" font-weight="bold" style="font-size:22.30px" textLength="52.95" lengthAdjust="spacingAndGlyphs">0.05</text>
<text x="676.01" y="692.90" font-weight="bold" style="font-size:22.30px" textLength="53.78" lengthAdjust="spacingAndGlyphs">0.10</text>
<text x="676.53" y="635.70" font-weight="bold" style="font-size:22.30px" textLength="52.95" lengthAdjust="spacingAndGlyphs">0.15</text>
<text x="676.01" y="578.50" font-weight="bold" style="font-size:22.30px" textLength="53.78" lengthAdjust="spacingAndGlyphs">0.20</text>
<text x="676.53" y="521.30" font-weight="bold" style="font-size:22.30px" textLength="52.95" lengthAdjust="spacingAndGlyphs">0.25</text>
<text transform="translate(761.90,846.85) rotate(-40)" x="-26.88" y="8.08" font-weight="bold" style="font-size:22.30px" textLength="53.78" lengthAdjust="spacingAndGlyphs">0.00</text>
<text transform="translate(826.35,846.85) rotate(-40)" x="-26.61" y="8.08" font-weight="bold" style="font-size:22.30px" textLength="52.95" lengthAdjust="spacingAndGlyphs">0.25</text>
<text transform="translate(890.80,846.85) rotate(-40)" x="-26.88" y="8.08" font-weight="bold" style="font-size:22.30px" textLength="53.78" lengthAdjust="spacingAndGlyphs">0.50</text>
<text transform="translate(955.25,846.85) rotate(-40)" x="-26.61" y="8.08" font-weight="bold" style="font-size:22.30px" textLength="52.95" lengthAdjust="spacingAndGlyphs">0.75</text>
<text transform="translate(1019.70,846.85) rotate(-40)" x="-26.70" y="8.08" font-weight="bold" style="font-size:22.30px" textLength="52.84" lengthAdjust="spacingAndGlyphs">1.00</text>
<text transform="translate(1084.15,846.85) rotate(-40)" x="-26.43" y="8.08" font-weight="bold" style="font-size:22.30px" textLength="52.01" lengthAdjust="spacingAndGlyphs">1.25</text>
<text transform="translate(1148.60,846.85) rotate(-40)" x="-26.70" y="8.08" font-weight="bold" style="font-size:22.30px" textLength="52.84" lengthAdjust="spacingAndGlyphs">1.50</text>
<text transform="translate(1213.05,846.85) rotate(-40)" x="-26.43" y="7.96" font-weight="bold" style="font-size:22.30px" textLength="52.01" lengthAdjust="spacingAndGlyphs">1.75</text>
<text x="927.70" y="895.40" font-weight="normal" style="font-size:22.10px" textLength="140.39" lengthAdjust="spacingAndGlyphs">Time Horizon</text>

<text transform="translate(666.60,657.75) rotate(-90)" x="-103.17" y="0" style="font-size:22.1px" textLength="206.74" lengthAdjust="spacingAndGlyphs">Cumulative Reward</text>
<text x="1210.23" y="893.20" font-weight="bold" style="font-size:22.30px" textLength="43.93" lengthAdjust="spacingAndGlyphs">1e6</text>
<text x="856.25" y="963.50" class="cap">(d) wiki-500k</text>
<clipPath id="clipe"><rect x="75" y="1002.1" width="503.9" height="278.69999999999993"/></clipPath>
<path d="M98.00,1002.1V1280.8M191.40,1002.1V1280.8M284.80,1002.1V1280.8M378.20,1002.1V1280.8M471.60,1002.1V1280.8M565.00,1002.1V1280.8M75,1267.60H578.9M75,1201.00H578.9M75,1134.40H578.9M75,1067.80H578.9" stroke="#b0b0b0" stroke-width="1.3" fill="none"/>
<g clip-path="url(#clipe)">
<path d="M98.0,1267.4 L127.8,1267.4 L128.0,1264.9 L128.2,1262.4 L128.5,1259.9 L128.7,1257.3 L129.0,1254.8 L129.2,1252.3 L129.5,1249.8 L129.8,1247.3 L130.1,1244.9 L130.4,1242.4 L130.8,1239.9 L131.1,1237.4 L131.5,1234.9 L131.9,1232.4 L132.2,1230.0 L132.6,1227.5 L133.1,1225.0 L133.5,1222.6 L133.9,1220.1 L134.4,1217.7 L134.9,1215.2 L135.4,1212.8 L135.9,1210.3 L136.5,1207.9 L137.0,1205.5 L137.6,1203.0 L138.2,1200.6 L138.8,1198.2 L139.4,1195.8 L140.0,1193.4 L140.7,1191.0 L141.4,1188.6 L142.1,1186.2 L142.8,1183.8 L143.6,1181.4 L144.3,1179.0 L145.1,1176.7 L145.9,1174.3 L146.8,1171.9 L147.6,1169.6 L148.5,1167.2 L149.4,1164.9 L150.3,1162.5 L151.3,1160.2 L152.2,1157.9 L153.2,1155.6 L154.2,1153.3 L155.3,1151.0 L156.3,1148.7 L157.4,1146.4 L158.5,1144.1 L159.7,1141.9 L160.8,1139.6 L162.0,1137.4 L163.2,1135.1 L164.4,1132.9 L165.7,1130.7 L166.9,1128.5 L168.2,1126.3 L169.6,1124.1 L170.9,1122.0 L172.3,1119.8 L173.7,1117.7 L175.1,1115.6 L176.5,1113.5 L178.0,1111.4 L179.5,1109.4 L181.0,1107.3 L182.5,1105.3 L184.1,1103.3 L185.7,1101.3 L187.3,1099.4 L189.0,1097.5 L190.6,1095.6 L192.3,1093.7 L194.0,1091.9 L195.8,1090.1 L197.5,1088.3 L199.3,1086.6 L201.2,1084.9 L203.0,1083.3 L204.9,1081.6 L206.8,1080.1 L208.7,1078.5 L210.6,1077.0 L212.6,1075.6 L214.6,1074.1 L216.6,1072.7 L218.7,1071.4 L220.7,1070.1 L222.8,1068.8 L224.9,1067.6 L227.1,1066.3 L229.2,1065.2 L231.4,1064.0 L233.6,1062.9 L235.8,1061.8 L238.0,1060.7 L240.2,1059.7 L242.5,1058.7 L244.8,1057.8 L247.0,1056.8 L249.3,1055.9 L251.7,1055.0 L254.0,1054.1 L256.3,1053.3 L258.7,1052.5 L261.0,1051.7 L263.4,1050.9 L265.8,1050.1 L268.2,1049.4 L270.6,1048.7 L273.0,1048.0 L275.5,1047.3 L277.9,1046.7 L280.3,1046.0 L282.8,1045.4 L285.2,1044.8 L287.7,1044.2 L290.1,1043.7 L292.6,1043.1 L295.1,1042.5 L297.5,1042.0 L300.0,1041.5 L302.5,1041.0 L305.0,1040.5 L307.4,1040.0 L309.9,1039.5 L312.4,1039.0 L314.9,1038.5 L317.4,1038.1 L319.8,1037.6 L322.3,1037.2 L324.8,1036.8 L327.3,1036.3 L329.8,1035.9 L332.3,1035.5 L334.8,1035.1 L337.3,1034.8 L339.7,1034.4 L342.2,1034.0 L344.7,1033.7 L347.2,1033.3 L349.7,1033.0 L352.2,1032.6 L354.7,1032.3 L357.2,1032.0 L359.7,1031.7 L362.2,1031.4 L364.7,1031.1 L367.2,1030.8 L369.7,1030.5 L372.2,1030.2 L374.7,1029.9 L377.2,1029.7 L379.7,1029.4 L382.2,1029.2 L384.7,1028.9 L387.2,1028.7 L389.7,1028.4 L392.2,1028.2 L394.7,1028.0 L397.2,1027.8 L399.7,1027.6 L402.2,1027.4 L404.7,1027.2 L407.2,1027.0 L409.7,1026.8 L412.2,1026.6 L414.7,1026.4 L417.2,1026.3 L419.8,1026.1 L422.3,1025.9 L424.8,1025.8 L427.3,1025.6 L429.8,1025.5 L432.3,1025.3 L434.8,1025.2 L437.3,1025.1 L439.8,1024.9 L442.3,1024.8 L444.8,1024.7 L447.3,1024.6 L449.9,1024.4 L452.4,1024.3 L454.9,1024.2 L457.4,1024.1 L459.9,1024.0 L462.4,1023.9 L464.9,1023.8 L467.4,1023.7 L469.9,1023.6 L472.4,1023.5 L474.9,1023.4 L477.4,1023.3 L480.0,1023.2 L482.5,1023.2 L485.0,1023.1 L487.5,1023.0 L490.0,1022.9 L492.5,1022.8 L495.0,1022.7 L497.5,1022.7 L500.0,1022.6 L502.5,1022.5 L505.0,1022.5 L507.5,1022.4 L510.0,1022.3 L512.5,1022.2 L515.0,1022.2 L517.5,1022.1 L520.0,1022.0 L522.5,1022.0 L525.0,1021.9 L527.5,1021.8 L530.0,1021.7 L532.5,1021.7 L535.0,1021.6 L537.5,1021.5 L540.0,1021.5 L542.5,1021.4 L545.0,1021.3 L547.5,1021.2 L550.0,1021.2 L552.5,1021.1 L555.0,1021.0" fill="none" stroke="#1f77b4" stroke-width="4.5" stroke-linecap="butt" stroke-linejoin="round" stroke-dasharray="16.65 7.20"/>
<path d="M98.0,1262.0 L98.0,1267.4 L127.8,1267.4 L128.0,1264.9 L128.2,1262.4 L128.5,1259.9 L128.7,1257.4 L129.0,1254.9 L129.3,1252.4 L129.5,1249.9 L129.8,1247.4 L130.1,1244.9 L130.4,1242.4 L130.8,1239.9 L131.1,1237.5 L131.5,1235.0 L131.9,1232.5 L132.2,1230.0 L132.6,1227.6 L133.1,1225.1 L133.5,1222.6 L133.9,1220.2 L134.4,1217.7 L134.9,1215.3 L135.4,1212.8 L135.9,1210.4 L136.4,1207.9 L137.0,1205.5 L137.5,1203.1 L138.1,1200.7 L138.7,1198.2 L139.3,1195.8 L140.0,1193.4 L140.6,1191.0 L141.3,1188.6 L142.0,1186.2 L142.7,1183.8 L143.5,1181.5 L144.3,1179.1 L145.0,1176.7 L145.8,1174.4 L146.7,1172.0 L147.5,1169.7 L148.4,1167.3 L149.3,1165.0 L150.2,1162.6 L151.1,1160.3 L152.1,1158.0 L153.1,1155.7 L154.1,1153.4 L155.2,1151.1 L156.2,1148.8 L157.3,1146.6 L158.4,1144.3 L159.6,1142.0 L160.7,1139.8 L161.9,1137.6 L163.1,1135.3 L164.4,1133.1 L165.6,1130.9 L166.9,1128.8 L168.2,1126.6 L169.5,1124.4 L170.9,1122.3 L172.3,1120.2 L173.7,1118.1 L175.1,1116.0 L176.6,1113.9 L178.0,1111.9 L179.5,1109.9 L181.0,1107.9 L182.6,1105.9 L184.2,1103.9 L185.7,1102.0 L187.4,1100.1 L189.0,1098.2 L190.6,1096.3 L192.3,1094.4 L194.0,1092.6 L195.8,1090.8 L197.5,1089.1 L199.3,1087.3 L201.1,1085.6 L202.9,1083.9 L204.7,1082.3 L206.6,1080.6 L208.4,1079.0 L210.3,1077.5 L212.3,1075.9 L214.2,1074.4 L216.2,1073.0 L218.2,1071.5 L220.2,1070.1 L222.2,1068.7 L224.3,1067.4 L226.3,1066.1 L228.4,1064.8 L230.5,1063.6 L232.7,1062.3 L234.8,1061.1 L237.0,1059.9 L239.2,1058.8 L241.4,1057.6 L243.6,1056.5 L245.8,1055.4 L248.1,1054.3 L250.3,1053.2 L252.6,1052.2 L254.9,1051.1 L257.2,1050.1 L259.5,1049.2 L261.8,1048.2 L264.2,1047.3 L266.5,1046.4 L268.9,1045.5 L271.2,1044.6 L273.6,1043.8 L276.0,1043.1 L278.4,1042.3 L280.8,1041.6 L283.2,1040.9 L285.7,1040.2 L288.1,1039.6 L290.5,1038.9 L293.0,1038.3 L295.4,1037.8 L297.9,1037.2 L300.3,1036.7 L302.8,1036.1 L305.3,1035.6 L307.8,1035.2 L310.2,1034.7 L312.7,1034.2 L315.2,1033.8 L317.7,1033.4 L320.1,1033.0 L322.6,1032.6 L325.1,1032.2 L327.6,1031.8 L330.1,1031.4 L332.5,1031.1 L335.0,1030.7 L337.5,1030.4 L340.0,1030.1 L342.5,1029.7 L345.0,1029.4 L347.5,1029.1 L349.9,1028.8 L352.4,1028.6 L354.9,1028.3 L357.4,1028.0 L359.9,1027.7 L362.4,1027.5 L364.9,1027.2 L367.4,1027.0 L369.8,1026.8 L372.3,1026.5 L374.8,1026.3 L377.3,1026.1 L379.8,1025.9 L382.3,1025.6 L384.8,1025.4 L387.3,1025.2 L389.8,1025.0 L392.3,1024.8 L394.8,1024.6 L397.2,1024.4 L399.7,1024.2 L402.2,1024.0 L404.7,1023.9 L407.2,1023.7 L409.7,1023.5 L412.2,1023.3 L414.7,1023.1 L417.2,1022.9 L419.7,1022.7 L422.2,1022.5 L424.7,1022.3 L427.2,1022.1 L429.7,1022.0 L432.2,1021.8 L434.7,1021.6 L437.2,1021.4 L439.7,1021.2 L442.2,1021.0 L444.7,1020.8 L447.2,1020.6 L449.7,1020.4 L452.2,1020.2 L454.7,1020.0 L457.2,1019.8 L459.7,1019.7 L462.2,1019.5 L464.7,1019.3 L467.2,1019.1 L469.7,1018.9 L472.2,1018.8 L474.7,1018.6 L477.2,1018.4 L479.7,1018.2 L482.2,1018.1 L484.7,1017.9 L487.2,1017.8 L489.7,1017.6 L492.2,1017.5 L494.7,1017.3 L497.2,1017.2 L499.7,1017.0 L502.2,1016.9 L504.7,1016.8 L507.2,1016.6 L509.7,1016.5 L512.2,1016.4 L514.7,1016.3 L517.2,1016.2 L519.7,1016.1 L522.2,1016.0 L524.7,1015.9 L527.2,1015.9 L529.7,1015.8 L532.2,1015.7 L534.7,1015.7 L537.2,1015.6 L539.7,1015.6 L542.2,1015.5 L544.7,1015.5 L547.2,1015.5 L549.7,1015.5 L552.2,1015.5 L554.7,1015.5 L557.2,1015.5" fill="none" stroke="#ff7f0e" stroke-width="4.5" stroke-linecap="square" stroke-linejoin="round"/>
<path d="M98.0,1267.4 L127.8,1267.4 L128.1,1264.9 L128.4,1262.5 L128.8,1260.0 L129.2,1257.6 L129.6,1255.1 L130.0,1252.7 L130.5,1250.2 L130.9,1247.8 L131.4,1245.3 L132.0,1242.9 L132.5,1240.4 L133.1,1238.0 L133.7,1235.5 L134.4,1233.1 L135.0,1230.7 L135.7,1228.2 L136.4,1225.8 L137.1,1223.4 L137.9,1221.0 L138.7,1218.6 L139.5,1216.2 L140.3,1213.8 L141.2,1211.4 L142.1,1209.1 L143.0,1206.7 L143.9,1204.3 L144.9,1202.0 L145.8,1199.7 L146.8,1197.3 L147.9,1195.0 L148.9,1192.7 L150.0,1190.4 L151.1,1188.1 L152.2,1185.9 L153.4,1183.6 L154.6,1181.4 L155.8,1179.1 L157.0,1176.9 L158.2,1174.7 L159.5,1172.5 L160.8,1170.4 L162.1,1168.2 L163.5,1166.1 L164.9,1163.9 L166.2,1161.8 L167.7,1159.7 L169.1,1157.7 L170.6,1155.6 L172.1,1153.6 L173.6,1151.6 L175.1,1149.6 L176.7,1147.6 L178.2,1145.6 L179.8,1143.7 L181.5,1141.8 L183.1,1139.9 L184.8,1138.0 L186.5,1136.2 L188.2,1134.3 L189.9,1132.5 L191.7,1130.7 L193.4,1129.0 L195.2,1127.2 L197.0,1125.5 L198.9,1123.8 L200.7,1122.2 L202.6,1120.5 L204.5,1118.9 L206.4,1117.4 L208.3,1115.8 L210.3,1114.3 L212.3,1112.8 L214.3,1111.3 L216.3,1109.8 L218.3,1108.4 L220.3,1107.0 L222.4,1105.7 L224.5,1104.3 L226.6,1103.0 L228.7,1101.7 L230.8,1100.4 L232.9,1099.2 L235.1,1098.0 L237.3,1096.8 L239.4,1095.6 L241.6,1094.5 L243.8,1093.4 L246.1,1092.3 L248.3,1091.2 L250.6,1090.2 L252.8,1089.2 L255.1,1088.2 L257.4,1087.2 L259.7,1086.3 L262.0,1085.3 L264.3,1084.4 L266.7,1083.6 L269.0,1082.7 L271.4,1081.9 L273.7,1081.1 L276.1,1080.3 L278.5,1079.6 L280.9,1078.8 L283.3,1078.1 L285.7,1077.4 L288.1,1076.7 L290.5,1076.0 L292.9,1075.4 L295.4,1074.8 L297.8,1074.2 L300.2,1073.6 L302.7,1073.0 L305.2,1072.4 L307.6,1071.9 L310.1,1071.3 L312.6,1070.8 L315.0,1070.3 L317.5,1069.8 L320.0,1069.3 L322.5,1068.8 L325.0,1068.3 L327.5,1067.9 L330.0,1067.4 L332.5,1067.0 L335.0,1066.5 L337.5,1066.1 L340.0,1065.7 L342.5,1065.3 L345.0,1064.9 L347.5,1064.5 L350.0,1064.1 L352.5,1063.7 L355.0,1063.3 L357.5,1063.0 L360.0,1062.6 L362.5,1062.2 L365.0,1061.9 L367.5,1061.5 L370.0,1061.2 L372.5,1060.9 L375.0,1060.5 L377.5,1060.2 L380.0,1059.9 L382.5,1059.6 L385.0,1059.3 L387.5,1059.0 L390.0,1058.7 L392.5,1058.4 L395.0,1058.1 L397.5,1057.8 L400.1,1057.5 L402.6,1057.2 L405.1,1057.0 L407.6,1056.7 L410.1,1056.4 L412.6,1056.2 L415.1,1055.9 L417.6,1055.7 L420.1,1055.4 L422.6,1055.2 L425.1,1054.9 L427.6,1054.7 L430.1,1054.5 L432.7,1054.3 L435.2,1054.0 L437.7,1053.8 L440.2,1053.6 L442.7,1053.4 L445.2,1053.2 L447.7,1052.9 L450.2,1052.7 L452.7,1052.5 L455.2,1052.3 L457.7,1052.1 L460.2,1051.9 L462.7,1051.7 L465.2,1051.6 L467.7,1051.4 L470.2,1051.2 L472.7,1051.0 L475.2,1050.8 L477.7,1050.6 L480.3,1050.4 L482.8,1050.3 L485.3,1050.1 L487.8,1049.9 L490.3,1049.7 L492.8,1049.6 L495.3,1049.4 L497.7,1049.2 L500.2,1049.0 L502.7,1048.9 L505.2,1048.7 L507.7,1048.5 L510.2,1048.4 L512.7,1048.2 L515.2,1048.0 L517.7,1047.9 L520.2,1047.7 L522.7,1047.5 L525.2,1047.4 L527.7,1047.2 L530.2,1047.0 L532.7,1046.9 L535.1,1046.7 L537.6,1046.5 L540.1,1046.3 L542.6,1046.2 L545.1,1046.0 L547.6,1045.8 L550.0,1045.7 L552.5,1045.5 L555.0,1045.3" fill="none" stroke="#2ca02c" stroke-width="4.5" stroke-linecap="butt" stroke-linejoin="round" stroke-dasharray="28.80 7.20 4.50 7.20"/>
<path d="M98.0,1267.4 L127.8,1267.4 L128.0,1264.9 L128.2,1262.4 L128.5,1259.9 L128.7,1257.4 L129.0,1254.9 L129.2,1252.4 L129.5,1249.9 L129.8,1247.5 L130.1,1245.0 L130.4,1242.5 L130.8,1240.0 L131.1,1237.5 L131.5,1235.0 L131.9,1232.5 L132.3,1230.0 L132.7,1227.6 L133.1,1225.1 L133.5,1222.6 L134.0,1220.1 L134.5,1217.7 L135.0,1215.2 L135.5,1212.7 L136.0,1210.3 L136.5,1207.8 L137.1,1205.4 L137.7,1202.9 L138.3,1200.5 L138.9,1198.1 L139.5,1195.6 L140.2,1193.2 L140.8,1190.8 L141.5,1188.4 L142.2,1186.0 L143.0,1183.6 L143.7,1181.2 L144.5,1178.8 L145.3,1176.4 L146.1,1174.1 L146.9,1171.7 L147.8,1169.4 L148.6,1167.0 L149.5,1164.7 L150.5,1162.4 L151.4,1160.0 L152.4,1157.7 L153.3,1155.4 L154.3,1153.1 L155.4,1150.9 L156.4,1148.6 L157.5,1146.3 L158.6,1144.1 L159.7,1141.9 L160.9,1139.6 L162.1,1137.4 L163.2,1135.2 L164.5,1133.0 L165.7,1130.8 L167.0,1128.7 L168.3,1126.5 L169.6,1124.4 L170.9,1122.2 L172.3,1120.1 L173.6,1118.0 L175.0,1115.9 L176.5,1113.9 L177.9,1111.8 L179.4,1109.7 L180.9,1107.7 L182.4,1105.7 L184.0,1103.7 L185.5,1101.7 L187.1,1099.7 L188.8,1097.8 L190.4,1095.9 L192.1,1094.0 L193.8,1092.2 L195.5,1090.3 L197.3,1088.5 L199.1,1086.8 L200.9,1085.1 L202.8,1083.4 L204.7,1081.8 L206.6,1080.2 L208.6,1078.6 L210.6,1077.1 L212.6,1075.6 L214.6,1074.2 L216.7,1072.9 L218.8,1071.6 L220.9,1070.3 L223.1,1069.1 L225.2,1068.0 L227.4,1066.9 L229.6,1065.8 L231.8,1064.7 L234.0,1063.7 L236.2,1062.7 L238.5,1061.8 L240.7,1060.8 L243.0,1059.9 L245.3,1059.0 L247.6,1058.1 L249.9,1057.2 L252.3,1056.3 L254.6,1055.4 L257.0,1054.6 L259.3,1053.8 L261.7,1053.0 L264.1,1052.2 L266.5,1051.5 L268.9,1050.8 L271.4,1050.1 L273.8,1049.4 L276.2,1048.7 L278.7,1048.1 L281.1,1047.4 L283.6,1046.8 L286.0,1046.2 L288.5,1045.7 L291.0,1045.1 L293.5,1044.6 L295.9,1044.0 L298.4,1043.5 L300.9,1043.0 L303.4,1042.5 L305.9,1042.0 L308.4,1041.6 L310.9,1041.1 L313.4,1040.7 L315.9,1040.2 L318.4,1039.8 L320.9,1039.4 L323.4,1039.0 L325.9,1038.6 L328.4,1038.2 L330.9,1037.8 L333.4,1037.4 L335.9,1037.1 L338.4,1036.7 L340.9,1036.3 L343.4,1036.0 L345.9,1035.7 L348.4,1035.3 L350.9,1035.0 L353.3,1034.7 L355.8,1034.4 L358.3,1034.1 L360.8,1033.8 L363.3,1033.5 L365.8,1033.2 L368.3,1032.9 L370.8,1032.6 L373.3,1032.4 L375.8,1032.1 L378.3,1031.8 L380.7,1031.6 L383.2,1031.4 L385.7,1031.1 L388.2,1030.9 L390.7,1030.7 L393.2,1030.4 L395.7,1030.2 L398.2,1030.0 L400.7,1029.8 L403.1,1029.6 L405.6,1029.4 L408.1,1029.2 L410.6,1029.0 L413.1,1028.8 L415.6,1028.6 L418.1,1028.5 L420.6,1028.3 L423.1,1028.1 L425.5,1028.0 L428.0,1027.8 L430.5,1027.7 L433.0,1027.5 L435.5,1027.4 L438.0,1027.2 L440.5,1027.1 L443.0,1026.9 L445.5,1026.8 L448.0,1026.7 L450.5,1026.5 L453.0,1026.4 L455.5,1026.3 L457.9,1026.1 L460.4,1026.0 L462.9,1025.9 L465.4,1025.8 L467.9,1025.7 L470.4,1025.6 L472.9,1025.5 L475.4,1025.3 L477.9,1025.2 L480.4,1025.1 L482.9,1025.0 L485.4,1024.9 L487.9,1024.8 L490.4,1024.7 L492.9,1024.6 L495.5,1024.5 L498.0,1024.4 L500.5,1024.3 L503.0,1024.2 L505.5,1024.1 L508.0,1024.1 L510.5,1024.0 L513.0,1023.9 L515.5,1023.8 L518.0,1023.7 L520.6,1023.6 L523.1,1023.5 L525.6,1023.4 L528.1,1023.3 L530.6,1023.2 L533.1,1023.1 L535.7,1023.0 L538.2,1022.9 L540.7,1022.8 L543.2,1022.7 L545.8,1022.6 L548.3,1022.5" fill="none" stroke="#d62728" stroke-width="4.5" stroke-linecap="butt" stroke-linejoin="round" stroke-dasharray="4.50 7.42"/>
</g>
<rect x="75" y="1002.1" width="503.9" height="278.69999999999993" fill="none" stroke="#000" stroke-width="1.5"/>
<path d="M98.00,1280.8v5M191.40,1280.8v5M284.80,1280.8v5M378.20,1280.8v5M471.60,1280.8v5M565.00,1280.8v5M75,1267.60h-5M75,1201.00h-5M75,1134.40h-5M75,1067.80h-5" stroke="#000" stroke-width="1.5" fill="none"/>
<text x="26.43" y="1275.20" font-weight="bold" style="font-size:22.30px" textLength="38.64" lengthAdjust="spacingAndGlyphs">0.0</text>
<text x="26.95" y="1208.60" font-weight="bold" style="font-size:22.30px" textLength="37.79" lengthAdjust="spacingAndGlyphs">0.1</text>
<text x="27.33" y="1142.00" font-weight="bold" style="font-size:22.30px" textLength="37.71" lengthAdjust="spacingAndGlyphs">0.2</text>
<text x="27.21" y="1075.40" font-weight="bold" style="font-size:22.30px" textLength="37.69" lengthAdjust="spacingAndGlyphs">0.3</text>
<text transform="translate(96.40,1301.66) rotate(-40)" x="-7.62" y="8.08" font-weight="bold" style="font-size:22.30px" textLength="15.27" lengthAdjust="spacingAndGlyphs">0</text>
<text transform="translate(189.80,1325.98) rotate(-40)" x="-45.25" y="8.08" font-weight="bold" style="font-size:22.30px" textLength="89.96" lengthAdjust="spacingAndGlyphs">100000</text>
<text transform="translate(283.20,1325.98) rotate(-40)" x="-44.89" y="8.08" font-weight="bold" style="font-size:22.30px" textLength="89.97" lengthAdjust="spacingAndGlyphs">200000</text>
<text transform="translate(376.60,1325.98) rotate(-40)" x="-44.72" y="8.08" font-weight="bold" style="font-size:22.30px" textLength="89.93" lengthAdjust="spacingAndGlyphs">300000</text>
<text transform="translate(470.00,1325.98) rotate(-40)" x="-44.82" y="8.08" font-weight="bold" style="font-size:22.30px" textLength="90.28" lengthAdjust="spacingAndGlyphs">400000</text>
<text transform="translate(563.40,1325.98) rotate(-40)" x="-44.95" y="8.08" font-weight="bold" style="font-size:22.30px" textLength="90.10" lengthAdjust="spacingAndGlyphs">500000</text>
<text x="257.30" y="1385.60" font-weight="normal" style="font-size:22.10px" textLength="140.39" lengthAdjust="spacingAndGlyphs">Time Horizon</text>

<text transform="translate(16.70,1140.45) rotate(-90)" x="-103.17" y="0" style="font-size:22.1px" textLength="206.74" lengthAdjust="spacingAndGlyphs">Cumulative Reward</text>
<text x="184.21" y="1461.70" class="cap">(e) amazon-670k</text>
<clipPath id="clipf"><rect x="739.7" y="1002.1" width="515.7" height="329.1"/></clipPath>
<path d="M762.50,1002.1V1331.2M830.75,1002.1V1331.2M899.00,1002.1V1331.2M967.25,1002.1V1331.2M1035.50,1002.1V1331.2M1103.75,1002.1V1331.2M1172.00,1002.1V1331.2M1240.25,1002.1V1331.2M739.7,1316.60H1255.4M739.7,1235.90H1255.4M739.7,1155.20H1255.4M739.7,1074.50H1255.4" stroke="#b0b0b0" stroke-width="1.3" fill="none"/>
<g clip-path="url(#clipf)">
<path d="M763.1,1316.1 L772.3,1316.1 L772.3,1313.6 L772.4,1311.0 L772.4,1308.5 L772.5,1306.0 L772.5,1303.4 L772.6,1300.9 L772.6,1298.4 L772.7,1295.9 L772.7,1293.4 L772.8,1290.8 L772.8,1288.3 L772.9,1285.8 L773.0,1283.3 L773.0,1280.8 L773.1,1278.3 L773.2,1275.8 L773.3,1273.3 L773.3,1270.8 L773.4,1268.3 L773.5,1265.8 L773.6,1263.4 L773.7,1260.9 L773.8,1258.4 L773.9,1255.9 L774.0,1253.4 L774.1,1250.9 L774.3,1248.4 L774.4,1246.0 L774.5,1243.5 L774.6,1241.0 L774.8,1238.5 L774.9,1236.0 L775.1,1233.6 L775.2,1231.1 L775.4,1228.6 L775.6,1226.1 L775.7,1223.6 L775.9,1221.2 L776.1,1218.7 L776.3,1216.2 L776.5,1213.7 L776.7,1211.2 L776.9,1208.8 L777.1,1206.3 L777.3,1203.8 L777.5,1201.3 L777.8,1198.8 L778.0,1196.3 L778.3,1193.8 L778.5,1191.4 L778.8,1188.9 L779.1,1186.4 L779.3,1183.9 L779.6,1181.4 L779.9,1178.9 L780.2,1176.4 L780.5,1173.9 L780.9,1171.4 L781.2,1168.9 L781.5,1166.4 L781.9,1163.8 L782.2,1161.3 L782.6,1158.8 L783.0,1156.3 L783.4,1153.8 L783.8,1151.3 L784.2,1148.7 L784.6,1146.2 L785.1,1143.7 L785.6,1141.2 L786.1,1138.8 L786.6,1136.3 L787.2,1133.8 L787.8,1131.4 L788.5,1128.9 L789.1,1126.5 L789.8,1124.1 L790.6,1121.7 L791.4,1119.3 L792.2,1117.0 L793.1,1114.7 L794.0,1112.4 L795.0,1110.1 L796.1,1107.8 L797.2,1105.6 L798.3,1103.4 L799.5,1101.3 L800.8,1099.2 L802.1,1097.1 L803.5,1095.0 L805.0,1093.0 L806.5,1091.0 L808.0,1089.1 L809.7,1087.2 L811.4,1085.4 L813.1,1083.7 L814.9,1082.0 L816.8,1080.3 L818.7,1078.8 L820.6,1077.3 L822.7,1075.9 L824.7,1074.6 L826.8,1073.4 L829.0,1072.2 L831.2,1071.1 L833.4,1070.2 L835.7,1069.2 L838.0,1068.4 L840.4,1067.6 L842.8,1066.9 L845.2,1066.3 L847.6,1065.8 L850.0,1065.3 L852.5,1064.8 L855.0,1064.4 L857.5,1064.1 L860.0,1063.8 L862.5,1063.5 L865.0,1063.3 L867.5,1063.1 L870.1,1062.9 L872.6,1062.8 L875.1,1062.6 L877.6,1062.5 L880.1,1062.4 L882.7,1062.4 L885.2,1062.3 L887.7,1062.3 L890.2,1062.2 L892.7,1062.2 L895.2,1062.2 L897.7,1062.2 L900.2,1062.3 L902.8,1062.3 L905.3,1062.4 L907.8,1062.4 L910.3,1062.5 L912.8,1062.6 L915.3,1062.7 L917.8,1062.8 L920.3,1063.0 L922.8,1063.1 L925.3,1063.2 L927.8,1063.4 L930.3,1063.5 L932.8,1063.7 L935.3,1063.9 L937.8,1064.0 L940.3,1064.2 L942.8,1064.4 L945.3,1064.6 L947.8,1064.8 L950.3,1065.0 L952.8,1065.1 L955.3,1065.3 L957.8,1065.5 L960.3,1065.7 L962.8,1065.9 L965.3,1066.1 L967.8,1066.3 L970.3,1066.4 L972.8,1066.6 L975.3,1066.8 L977.8,1067.0 L980.3,1067.1 L982.8,1067.3 L985.3,1067.5 L987.8,1067.6 L990.3,1067.8 L992.8,1067.9 L995.3,1068.1 L997.8,1068.2 L1000.3,1068.4 L1002.8,1068.5 L1005.3,1068.7 L1007.8,1068.8 L1010.3,1068.9 L1012.8,1069.1 L1015.3,1069.2 L1017.8,1069.3 L1020.3,1069.5 L1022.8,1069.6 L1025.3,1069.7 L1027.8,1069.8 L1030.3,1070.0 L1032.8,1070.1 L1035.3,1070.2 L1037.8,1070.3 L1040.3,1070.4 L1042.8,1070.5 L1045.3,1070.6 L1047.8,1070.7 L1050.3,1070.8 L1052.8,1070.9 L1055.3,1071.0 L1057.8,1071.1 L1060.3,1071.2 L1062.8,1071.3 L1065.3,1071.4 L1067.8,1071.5 L1070.3,1071.6 L1072.8,1071.6 L1075.3,1071.7 L1077.8,1071.8 L1080.3,1071.9 L1082.8,1072.0 L1085.3,1072.0 L1087.8,1072.1 L1090.3,1072.2 L1092.8,1072.3 L1095.3,1072.3 L1097.8,1072.4 L1100.3,1072.5 L1102.8,1072.5 L1105.3,1072.6 L1107.8,1072.7 L1110.3,1072.7 L1112.8,1072.8 L1115.3,1072.8 L1117.8,1072.9 L1120.3,1072.9 L1122.8,1073.0 L1125.3,1073.1 L1127.8,1073.1 L1130.3,1073.2 L1132.8,1073.2 L1135.3,1073.3 L1137.8,1073.3 L1140.3,1073.3 L1142.8,1073.4 L1145.3,1073.4 L1147.8,1073.5 L1150.3,1073.5 L1152.8,1073.6 L1155.3,1073.6 L1157.8,1073.6 L1160.3,1073.7 L1162.8,1073.7 L1165.3,1073.8 L1167.8,1073.8 L1170.3,1073.8 L1172.8,1073.9 L1175.4,1073.9 L1177.9,1073.9 L1180.4,1074.0 L1182.9,1074.0 L1185.4,1074.0 L1187.9,1074.1 L1190.4,1074.1 L1192.9,1074.1 L1195.4,1074.2 L1197.9,1074.2 L1200.4,1074.2 L1202.9,1074.3 L1205.4,1074.3 L1207.9,1074.3 L1210.4,1074.3 L1212.9,1074.4 L1215.4,1074.4 L1218.0,1074.4 L1220.5,1074.5 L1223.0,1074.5 L1225.5,1074.5 L1228.0,1074.5 L1230.5,1074.6 L1233.0,1074.6" fill="none" stroke="#1f77b4" stroke-width="4.5" stroke-linecap="butt" stroke-linejoin="round" stroke-dasharray="16.65 7.20"/>
<path d="M763.1,1316.1 L772.3,1316.1 L772.3,1313.6 L772.3,1311.1 L772.3,1308.7 L772.3,1306.2 L772.3,1303.7 L772.3,1301.2 L772.4,1298.7 L772.4,1296.2 L772.4,1293.7 L772.5,1291.2 L772.5,1288.7 L772.6,1286.2 L772.7,1283.7 L772.7,1281.1 L772.8,1278.6 L772.9,1276.1 L773.0,1273.6 L773.0,1271.1 L773.1,1268.5 L773.2,1266.0 L773.3,1263.5 L773.5,1261.0 L773.6,1258.5 L773.7,1255.9 L773.8,1253.4 L773.9,1250.9 L774.1,1248.4 L774.2,1245.9 L774.3,1243.4 L774.5,1240.8 L774.6,1238.3 L774.8,1235.8 L774.9,1233.3 L775.1,1230.8 L775.3,1228.3 L775.4,1225.8 L775.6,1223.3 L775.8,1220.8 L776.0,1218.3 L776.1,1215.9 L776.3,1213.4 L776.5,1210.9 L776.7,1208.4 L776.9,1206.0 L777.1,1203.5 L777.3,1201.0 L777.5,1198.6 L777.7,1196.1 L777.9,1193.7 L778.1,1191.2 L778.3,1188.7 L778.6,1186.3 L778.8,1183.8 L779.0,1181.4 L779.2,1178.9 L779.4,1176.4 L779.7,1174.0 L779.9,1171.5 L780.1,1169.1 L780.4,1166.6 L780.6,1164.1 L780.8,1161.6 L781.1,1159.1 L781.3,1156.7 L781.5,1154.2 L781.8,1151.7 L782.0,1149.2 L782.3,1146.7 L782.5,1144.2 L782.8,1141.6 L783.0,1139.1 L783.3,1136.6 L783.6,1134.1 L783.9,1131.6 L784.2,1129.0 L784.5,1126.5 L784.8,1124.0 L785.2,1121.5 L785.6,1119.0 L785.9,1116.5 L786.4,1113.9 L786.8,1111.4 L787.2,1108.9 L787.7,1106.4 L788.2,1104.0 L788.7,1101.5 L789.3,1099.0 L789.9,1096.5 L790.5,1094.1 L791.1,1091.6 L791.8,1089.2 L792.5,1086.8 L793.3,1084.4 L794.1,1082.0 L794.9,1079.6 L795.8,1077.2 L796.7,1074.8 L797.7,1072.5 L798.6,1070.1 L799.7,1067.8 L800.8,1065.5 L801.9,1063.3 L803.1,1061.0 L804.4,1058.8 L805.7,1056.7 L807.0,1054.6 L808.4,1052.5 L809.9,1050.5 L811.4,1048.5 L812.9,1046.6 L814.6,1044.8 L816.3,1043.1 L818.0,1041.4 L819.9,1039.8 L821.7,1038.2 L823.7,1036.8 L825.6,1035.4 L827.7,1034.0 L829.8,1032.8 L831.9,1031.6 L834.0,1030.4 L836.2,1029.3 L838.5,1028.3 L840.7,1027.4 L843.0,1026.5 L845.3,1025.6 L847.6,1024.8 L850.0,1024.1 L852.4,1023.4 L854.7,1022.7 L857.1,1022.1 L859.5,1021.6 L861.9,1021.1 L864.4,1020.6 L866.8,1020.2 L869.2,1019.8 L871.7,1019.4 L874.2,1019.1 L876.6,1018.8 L879.1,1018.6 L881.6,1018.4 L884.1,1018.2 L886.6,1018.0 L889.1,1017.9 L891.6,1017.8 L894.1,1017.7 L896.6,1017.6 L899.1,1017.6 L901.7,1017.6 L904.2,1017.6 L906.7,1017.6 L909.3,1017.6 L911.8,1017.7 L914.3,1017.7 L916.9,1017.8 L919.4,1017.9 L922.0,1017.9 L924.5,1018.0 L927.0,1018.1 L929.6,1018.2 L932.1,1018.3 L934.6,1018.4 L937.2,1018.4 L939.7,1018.5 L942.2,1018.6 L944.8,1018.7 L947.3,1018.8 L949.8,1018.9 L952.3,1019.0 L954.9,1019.0 L957.4,1019.1 L959.9,1019.2 L962.4,1019.3 L964.9,1019.4 L967.5,1019.5 L970.0,1019.6 L972.5,1019.6 L975.0,1019.7 L977.5,1019.8 L980.0,1019.9 L982.5,1020.0 L985.0,1020.0 L987.5,1020.1 L990.0,1020.2 L992.5,1020.3 L995.0,1020.4 L997.5,1020.4 L1000.0,1020.5 L1002.5,1020.6 L1005.0,1020.7 L1007.5,1020.8 L1010.0,1020.8 L1012.5,1020.9 L1015.0,1021.0 L1017.5,1021.0 L1020.0,1021.1 L1022.5,1021.2 L1025.0,1021.3 L1027.5,1021.3 L1030.0,1021.4 L1032.5,1021.5 L1035.0,1021.5 L1037.4,1021.6 L1039.9,1021.7 L1042.4,1021.7 L1044.9,1021.8 L1047.4,1021.9 L1049.9,1021.9 L1052.4,1022.0 L1054.9,1022.1 L1057.4,1022.1 L1059.8,1022.2 L1062.3,1022.2 L1064.8,1022.3 L1067.3,1022.4 L1069.8,1022.4 L1072.3,1022.5 L1074.8,1022.5 L1077.2,1022.6 L1079.7,1022.6 L1082.2,1022.7 L1084.7,1022.7 L1087.2,1022.8 L1089.7,1022.8 L1092.1,1022.9 L1094.6,1022.9 L1097.1,1023.0 L1099.6,1023.0 L1102.1,1023.1 L1104.6,1023.1 L1107.1,1023.1 L1109.6,1023.2 L1112.0,1023.2 L1114.5,1023.3 L1117.0,1023.3 L1119.5,1023.3 L1122.0,1023.4 L1124.5,1023.4 L1127.0,1023.4 L1129.5,1023.4 L1132.0,1023.5 L1134.5,1023.5 L1136.9,1023.5 L1139.4,1023.6 L1141.9,1023.6 L1144.4,1023.6 L1146.9,1023.6 L1149.4,1023.6 L1151.9,1023.6 L1154.4,1023.7 L1156.9,1023.7 L1159.4,1023.7 L1161.9,1023.7 L1164.4,1023.7 L1166.9,1023.7 L1169.4,1023.7 L1171.9,1023.7 L1174.4,1023.7 L1176.9,1023.7 L1179.5,1023.7 L1182.0,1023.7 L1184.5,1023.7 L1187.0,1023.7 L1189.5,1023.7 L1192.0,1023.7 L1194.5,1023.7 L1197.1,1023.7 L1199.6,1023.7 L1202.1,1023.7 L1204.6,1023.6 L1207.1,1023.6 L1209.7,1023.6 L1212.2,1023.6 L1214.7,1023.6 L1217.2,1023.5 L1219.8,1023.5 L1222.3,1023.5 L1224.8,1023.4 L1227.4,1023.4 L1229.9,1023.4 L1232.5,1023.3 L1235.0,1023.3" fill="none" stroke="#ff7f0e" stroke-width="4.5" stroke-linecap="square" stroke-linejoin="round"/>
<path d="M763.1,1316.1 L772.3,1316.1 L772.3,1313.5 L772.3,1311.0 L772.3,1308.4 L772.3,1305.9 L772.4,1303.4 L772.4,1300.8 L772.4,1298.3 L772.4,1295.8 L772.5,1293.3 L772.5,1290.7 L772.6,1288.2 L772.6,1285.7 L772.7,1283.2 L772.8,1280.7 L772.8,1278.2 L772.9,1275.7 L773.0,1273.2 L773.1,1270.8 L773.2,1268.3 L773.3,1265.8 L773.4,1263.3 L773.5,1260.8 L773.6,1258.4 L773.7,1255.9 L773.8,1253.4 L774.0,1251.0 L774.1,1248.5 L774.2,1246.0 L774.4,1243.6 L774.5,1241.1 L774.7,1238.6 L774.9,1236.2 L775.0,1233.7 L775.2,1231.2 L775.4,1228.8 L775.6,1226.3 L775.8,1223.9 L776.0,1221.4 L776.2,1218.9 L776.4,1216.5 L776.7,1214.0 L776.9,1211.5 L777.1,1209.1 L777.4,1206.6 L777.6,1204.1 L777.9,1201.6 L778.2,1199.2 L778.4,1196.7 L778.7,1194.2 L779.0,1191.7 L779.3,1189.2 L779.6,1186.7 L779.9,1184.2 L780.2,1181.7 L780.6,1179.2 L780.9,1176.7 L781.2,1174.2 L781.6,1171.7 L781.9,1169.2 L782.3,1166.7 L782.7,1164.1 L783.1,1161.6 L783.5,1159.1 L783.9,1156.5 L784.3,1154.0 L784.7,1151.5 L785.2,1148.9 L785.6,1146.4 L786.1,1143.9 L786.6,1141.4 L787.1,1138.9 L787.6,1136.4 L788.2,1133.9 L788.8,1131.5 L789.4,1129.0 L790.0,1126.6 L790.7,1124.2 L791.4,1121.8 L792.2,1119.5 L792.9,1117.2 L793.8,1114.9 L794.7,1112.6 L795.6,1110.4 L796.7,1108.2 L797.8,1106.0 L798.9,1103.9 L800.2,1101.8 L801.5,1099.8 L802.9,1097.8 L804.5,1095.9 L806.0,1094.0 L807.7,1092.1 L809.4,1090.3 L811.2,1088.6 L813.1,1087.0 L815.0,1085.4 L817.0,1083.8 L819.0,1082.4 L821.1,1081.0 L823.2,1079.7 L825.3,1078.5 L827.5,1077.4 L829.7,1076.4 L831.9,1075.4 L834.2,1074.5 L836.5,1073.7 L838.8,1073.0 L841.2,1072.3 L843.5,1071.6 L845.9,1071.0 L848.3,1070.5 L850.8,1070.0 L853.2,1069.5 L855.7,1069.0 L858.1,1068.6 L860.6,1068.2 L863.1,1067.8 L865.7,1067.4 L868.2,1067.1 L870.7,1066.7 L873.2,1066.4 L875.8,1066.1 L878.3,1065.9 L880.9,1065.6 L883.4,1065.4 L886.0,1065.1 L888.5,1064.9 L891.1,1064.7 L893.6,1064.5 L896.2,1064.3 L898.7,1064.2 L901.2,1064.0 L903.8,1063.8 L906.3,1063.7 L908.8,1063.6 L911.3,1063.4 L913.9,1063.3 L916.4,1063.2 L918.9,1063.1 L921.4,1063.0 L923.9,1062.9 L926.4,1062.8 L928.9,1062.7 L931.4,1062.6 L933.9,1062.5 L936.4,1062.4 L938.9,1062.4 L941.4,1062.3 L943.9,1062.2 L946.4,1062.2 L948.9,1062.1 L951.3,1062.1 L953.8,1062.0 L956.3,1062.0 L958.8,1061.9 L961.3,1061.9 L963.8,1061.8 L966.2,1061.8 L968.7,1061.7 L971.2,1061.7 L973.7,1061.6 L976.1,1061.6 L978.6,1061.5 L981.1,1061.5 L983.6,1061.4 L986.1,1061.4 L988.5,1061.3 L991.0,1061.3 L993.5,1061.2 L996.0,1061.1 L998.4,1061.1 L1000.9,1061.0 L1003.4,1060.9 L1005.9,1060.8 L1008.4,1060.7 L1010.8,1060.6 L1013.3,1060.5 L1015.8,1060.4 L1018.3,1060.3 L1020.8,1060.2 L1023.3,1060.1 L1025.7,1060.0 L1028.2,1059.8 L1030.7,1059.7 L1033.2,1059.6 L1035.7,1059.4 L1038.2,1059.3 L1040.7,1059.1 L1043.2,1059.0 L1045.7,1058.8 L1048.2,1058.7 L1050.7,1058.5 L1053.2,1058.3 L1055.6,1058.2 L1058.1,1058.0 L1060.6,1057.8 L1063.1,1057.6 L1065.6,1057.5 L1068.1,1057.3 L1070.6,1057.1 L1073.1,1056.9 L1075.6,1056.7 L1078.1,1056.5 L1080.6,1056.3 L1083.1,1056.1 L1085.6,1055.9 L1088.1,1055.7 L1090.6,1055.5 L1093.1,1055.3 L1095.6,1055.1 L1098.1,1054.9 L1100.6,1054.7 L1103.1,1054.5 L1105.6,1054.3 L1108.1,1054.1 L1110.6,1053.9 L1113.1,1053.7 L1115.6,1053.5 L1118.2,1053.3 L1120.7,1053.1 L1123.2,1052.9 L1125.7,1052.7 L1128.2,1052.5 L1130.7,1052.3 L1133.2,1052.1 L1135.7,1051.9 L1138.2,1051.8 L1140.7,1051.6 L1143.2,1051.4 L1145.7,1051.2 L1148.2,1051.0 L1150.7,1050.8 L1153.2,1050.6 L1155.7,1050.5 L1158.2,1050.3 L1160.7,1050.1 L1163.2,1049.9 L1165.7,1049.8 L1168.2,1049.6 L1170.7,1049.4 L1173.2,1049.3 L1175.7,1049.1 L1178.2,1049.0 L1180.7,1048.8 L1183.2,1048.7 L1185.7,1048.6 L1188.2,1048.4 L1190.7,1048.3 L1193.2,1048.2 L1195.7,1048.1 L1198.2,1047.9 L1200.6,1047.8 L1203.1,1047.7 L1205.6,1047.6 L1208.1,1047.5 L1210.6,1047.4 L1213.1,1047.4 L1215.6,1047.3 L1218.1,1047.2 L1220.6,1047.1 L1223.1,1047.1 L1225.5,1047.0 L1228.0,1047.0 L1230.5,1046.9 L1233.0,1046.9" fill="none" stroke="#2ca02c" stroke-width="4.5" stroke-linecap="butt" stroke-linejoin="round" stroke-dasharray="28.80 7.20 4.50 7.20"/>
<path d="M763.1,1316.1 L772.3,1316.1 L772.3,1313.6 L772.4,1311.0 L772.4,1308.5 L772.5,1305.9 L772.5,1303.4 L772.5,1300.9 L772.6,1298.4 L772.6,1295.8 L772.7,1293.3 L772.7,1290.8 L772.8,1288.3 L772.9,1285.8 L772.9,1283.3 L773.0,1280.8 L773.0,1278.3 L773.1,1275.8 L773.2,1273.3 L773.3,1270.8 L773.3,1268.3 L773.4,1265.8 L773.5,1263.3 L773.6,1260.8 L773.7,1258.3 L773.8,1255.8 L773.9,1253.3 L774.0,1250.9 L774.1,1248.4 L774.2,1245.9 L774.3,1243.4 L774.5,1240.9 L774.6,1238.5 L774.7,1236.0 L774.8,1233.5 L775.0,1231.0 L775.1,1228.6 L775.3,1226.1 L775.4,1223.6 L775.6,1221.1 L775.8,1218.6 L775.9,1216.2 L776.1,1213.7 L776.3,1211.2 L776.5,1208.7 L776.6,1206.3 L776.8,1203.8 L777.0,1201.3 L777.3,1198.8 L777.5,1196.4 L777.7,1193.9 L777.9,1191.4 L778.1,1188.9 L778.4,1186.4 L778.6,1183.9 L778.9,1181.4 L779.1,1179.0 L779.4,1176.5 L779.7,1174.0 L779.9,1171.5 L780.2,1169.0 L780.5,1166.5 L780.8,1164.0 L781.1,1161.5 L781.4,1159.0 L781.7,1156.5 L782.1,1153.9 L782.4,1151.4 L782.7,1148.9 L783.1,1146.4 L783.4,1143.9 L783.8,1141.3 L784.2,1138.8 L784.5,1136.3 L784.9,1133.8 L785.3,1131.3 L785.7,1128.7 L786.2,1126.2 L786.6,1123.7 L787.0,1121.2 L787.5,1118.7 L787.9,1116.2 L788.4,1113.7 L788.9,1111.2 L789.4,1108.8 L789.9,1106.3 L790.4,1103.9 L790.9,1101.4 L791.5,1099.0 L792.0,1096.6 L792.7,1094.1 L793.3,1091.8 L794.0,1089.4 L794.7,1087.0 L795.5,1084.7 L796.4,1082.3 L797.3,1080.0 L798.2,1077.7 L799.3,1075.5 L800.3,1073.3 L801.5,1071.1 L802.7,1068.9 L803.9,1066.8 L805.2,1064.7 L806.6,1062.7 L808.0,1060.7 L809.4,1058.8 L811.0,1056.9 L812.6,1055.0 L814.2,1053.3 L815.9,1051.5 L817.7,1049.9 L819.6,1048.3 L821.5,1046.8 L823.4,1045.3 L825.4,1043.9 L827.5,1042.6 L829.6,1041.3 L831.8,1040.1 L834.0,1038.9 L836.2,1037.8 L838.5,1036.8 L840.8,1035.8 L843.2,1034.9 L845.5,1034.0 L847.9,1033.2 L850.4,1032.4 L852.8,1031.6 L855.3,1030.9 L857.8,1030.3 L860.2,1029.6 L862.8,1029.1 L865.3,1028.5 L867.8,1028.0 L870.3,1027.5 L872.8,1027.1 L875.3,1026.7 L877.8,1026.3 L880.3,1026.0 L882.8,1025.7 L885.3,1025.4 L887.8,1025.1 L890.3,1024.9 L892.8,1024.7 L895.3,1024.5 L897.8,1024.4 L900.3,1024.3 L902.8,1024.1 L905.3,1024.1 L907.8,1024.0 L910.3,1023.9 L912.8,1023.9 L915.3,1023.9 L917.8,1023.9 L920.3,1023.9 L922.8,1024.0 L925.3,1024.0 L927.8,1024.1 L930.3,1024.1 L932.7,1024.2 L935.2,1024.3 L937.7,1024.4 L940.2,1024.5 L942.7,1024.6 L945.2,1024.8 L947.7,1024.9 L950.2,1025.0 L952.7,1025.1 L955.2,1025.3 L957.7,1025.4 L960.2,1025.6 L962.7,1025.7 L965.2,1025.8 L967.7,1025.9 L970.1,1026.1 L972.6,1026.2 L975.1,1026.3 L977.6,1026.4 L980.1,1026.5 L982.6,1026.7 L985.1,1026.8 L987.6,1026.9 L990.1,1027.0 L992.6,1027.1 L995.1,1027.2 L997.6,1027.2 L1000.1,1027.3 L1002.6,1027.4 L1005.1,1027.5 L1007.6,1027.6 L1010.1,1027.7 L1012.6,1027.7 L1015.1,1027.8 L1017.6,1027.9 L1020.1,1027.9 L1022.6,1028.0 L1025.1,1028.1 L1027.6,1028.1 L1030.1,1028.2 L1032.6,1028.2 L1035.2,1028.3 L1037.7,1028.3 L1040.2,1028.4 L1042.7,1028.4 L1045.2,1028.5 L1047.7,1028.5 L1050.2,1028.6 L1052.7,1028.6 L1055.2,1028.6 L1057.7,1028.7 L1060.2,1028.7 L1062.7,1028.8 L1065.2,1028.8 L1067.7,1028.8 L1070.2,1028.8 L1072.7,1028.9 L1075.2,1028.9 L1077.7,1028.9 L1080.3,1028.9 L1082.8,1029.0 L1085.3,1029.0 L1087.8,1029.0 L1090.3,1029.0 L1092.8,1029.1 L1095.3,1029.1 L1097.8,1029.1 L1100.3,1029.1 L1102.8,1029.1 L1105.3,1029.1 L1107.8,1029.2 L1110.3,1029.2 L1112.8,1029.2 L1115.3,1029.2 L1117.9,1029.2 L1120.4,1029.2 L1122.9,1029.3 L1125.4,1029.3 L1127.9,1029.3 L1130.4,1029.3 L1132.9,1029.3 L1135.4,1029.3 L1137.9,1029.3 L1140.4,1029.4 L1142.9,1029.4 L1145.4,1029.4 L1147.9,1029.4 L1150.4,1029.4 L1152.9,1029.4 L1155.4,1029.5 L1158.0,1029.5 L1160.5,1029.5 L1163.0,1029.5 L1165.5,1029.5 L1168.0,1029.6 L1170.5,1029.6 L1173.0,1029.6 L1175.5,1029.6 L1178.0,1029.7 L1180.5,1029.7 L1183.0,1029.7 L1185.5,1029.7 L1188.0,1029.8 L1190.5,1029.8 L1193.0,1029.8 L1195.5,1029.9 L1198.0,1029.9 L1200.5,1029.9 L1203.0,1030.0 L1205.5,1030.0 L1208.0,1030.1 L1210.5,1030.1 L1213.0,1030.2 L1215.5,1030.2 L1218.0,1030.3 L1220.5,1030.3 L1223.0,1030.4 L1225.5,1030.4 L1228.0,1030.5 L1230.5,1030.5 L1233.0,1030.6" fill="none" stroke="#d62728" stroke-width="4.5" stroke-linecap="butt" stroke-linejoin="round" stroke-dasharray="4.50 7.42"/>
</g>
<rect x="739.7" y="1002.1" width="515.7" height="329.1" fill="none" stroke="#000" stroke-width="1.5"/>
<path d="M762.50,1331.2v5M830.75,1331.2v5M899.00,1331.2v5M967.25,1331.2v5M1035.50,1331.2v5M1103.75,1331.2v5M1172.00,1331.2v5M1240.25,1331.2v5M739.7,1316.60h-5M739.7,1235.90h-5M739.7,1155.20h-5M739.7,1074.50h-5" stroke="#000" stroke-width="1.5" fill="none"/>
<text x="676.01" y="1324.20" font-weight="bold" style="font-size:22.30px" textLength="53.78" lengthAdjust="spacingAndGlyphs">0.00</text>
<text x="676.53" y="1243.50" font-weight="bold" style="font-size:22.30px" textLength="52.95" lengthAdjust="spacingAndGlyphs">0.05</text>
<text x="676.01" y="1162.80" font-weight="bold" style="font-size:22.30px" textLength="53.78" lengthAdjust="spacingAndGlyphs">0.10</text>
<text x="676.53" y="1082.10" font-weight="bold" style="font-size:22.30px" textLength="52.95" lengthAdjust="spacingAndGlyphs">0.15</text>
<text x="735.62" y="1358.30" font-weight="bold" style="font-size:22.30px" textLength="53.78" lengthAdjust="spacingAndGlyphs">0.00</text>
<text x="804.14" y="1358.30" font-weight="bold" style="font-size:22.30px" textLength="52.95" lengthAdjust="spacingAndGlyphs">0.25</text>
<text x="872.12" y="1358.30" font-weight="bold" style="font-size:22.30px" textLength="53.78" lengthAdjust="spacingAndGlyphs">0.50</text>
<text x="940.64" y="1358.30" font-weight="bold" style="font-size:22.30px" textLength="52.95" lengthAdjust="spacingAndGlyphs">0.75</text>
<text x="1008.80" y="1358.30" font-weight="bold" style="font-size:22.30px" textLength="52.84" lengthAdjust="spacingAndGlyphs">1.00</text>
<text x="1077.32" y="1358.30" font-weight="bold" style="font-size:22.30px" textLength="52.01" lengthAdjust="spacingAndGlyphs">1.25</text>
<text x="1145.30" y="1358.30" font-weight="bold" style="font-size:22.30px" textLength="52.84" lengthAdjust="spacingAndGlyphs">1.50</text>
<text x="1213.82" y="1358.30" font-weight="bold" style="font-size:22.30px" textLength="52.01" lengthAdjust="spacingAndGlyphs">1.75</text>
<text x="927.90" y="1384.10" font-weight="normal" style="font-size:22.10px" textLength="140.39" lengthAdjust="spacingAndGlyphs">Time Horizon</text>

<text transform="translate(666.60,1165.65) rotate(-90)" x="-136.22" y="0" style="font-size:22.1px" textLength="272.11" lengthAdjust="spacingAndGlyphs">Progressive Mean Reward</text>
<text x="1210.63" y="1382.70" font-weight="bold" style="font-size:22.30px" textLength="43.93" lengthAdjust="spacingAndGlyphs">1e6</text>
<text x="848.58" y="1462.40" class="cap">(f) amazon-3m</text>
<rect x="956.8" y="671.6" width="286.4" height="130.7" rx="5" ry="5" fill="#fff" fill-opacity="0.8" stroke="#cccccc" stroke-opacity="0.8" stroke-width="1.3"/>
<path d="M964.7,687.7H1006.3" stroke="#1f77b4" stroke-width="4.5" stroke-linecap="butt" stroke-dasharray="16.65 7.20"/>
<text x="1024.33" y="694.00" font-weight="bold" style="font-size:21.00px" textLength="171.27" lengthAdjust="spacingAndGlyphs">X-Greedy-topk</text>
<path d="M964.7,718.7H1006.3" stroke="#ff7f0e" stroke-width="4.5" stroke-linecap="square"/>
<text x="1024.33" y="725.00" font-weight="bold" style="font-size:21.00px" textLength="133.53" lengthAdjust="spacingAndGlyphs">X-IGW-topk</text>
<path d="M964.7,749.8H1006.3" stroke="#2ca02c" stroke-width="4.5" stroke-linecap="butt" stroke-dasharray="28.80 7.20 4.50 7.20"/>
<text x="1024.33" y="756.10" font-weight="bold" style="font-size:21.00px" textLength="212.52" lengthAdjust="spacingAndGlyphs">X-Boltzmann-topk</text>
<path d="M964.7,781.6H1006.3" stroke="#d62728" stroke-width="4.5" stroke-linecap="butt" stroke-dasharray="4.50 7.42"/>
<text x="1024.32" y="787.90" font-weight="bold" style="font-size:21.00px" textLength="189.73" lengthAdjust="spacingAndGlyphs">X-<tspan font-style="italic">ε</tspan>-greedy-topk</text>
</svg>
</body></html>
